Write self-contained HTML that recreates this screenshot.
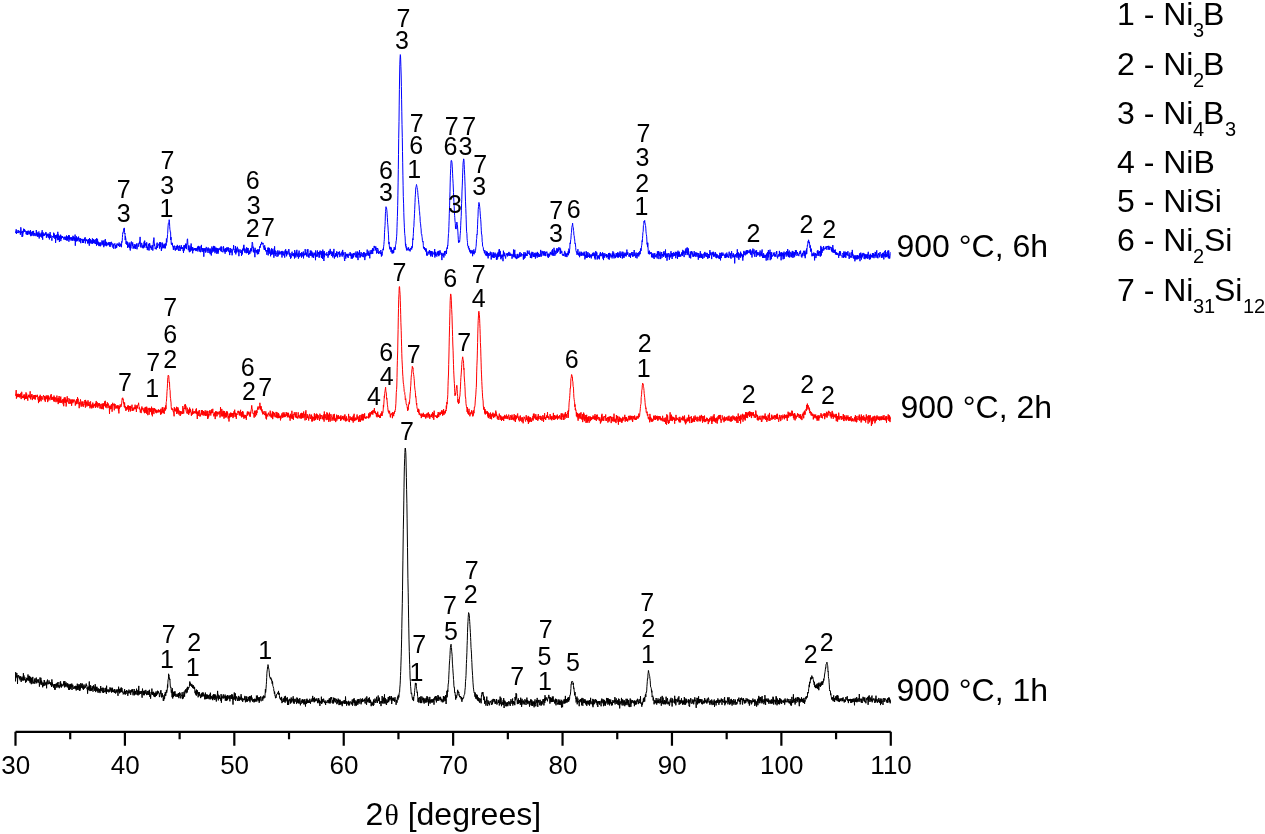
<!DOCTYPE html>
<html><head><meta charset="utf-8"><style>
html,body{margin:0;padding:0;background:#fff;}
svg{display:block;filter:blur(0.4px);}
text{font-family:"Liberation Sans",Arial,sans-serif;}
</style></head><body>
<svg width="1265" height="834" viewBox="0 0 1265 834">
<rect width="1265" height="834" fill="#fff"/>
<g fill="none" stroke-width="10" stroke-linejoin="round" transform="scale(0.1)">
<path stroke="#00f" d="M155 2316l2 13 2-5 3-31 2 47 2-11 2-23 2 24 3-1 2-3 2-6 2 8 2-27 2 10 3-3 2 23 2-9 2-8 2-5 3 9 2 4 2-5 2 31 2-4 3-71 2 16 2 37 2-8 2 15 3 3 2 34 2-61 2 12 2 43 2-29 3-1 2-20 2-27 2 32 2 0 3-28 2 13 2 13 2-18 2 15 3 2 2-1 2-4 2 28 2 4 2-12 3-19 2 31 2-22 2 29 2-37 3 36 2-22 2-21 2 19 2 7 3 6 2-22 2-4 2 26 2-14 3 15 2 9 2-48 2 38 2 24 2-30 3-13 2 34 2-8 2 11 2-22 3-22 2 29 2-12 2 25 2-8 3-37 2 10 2 42 2-6 2-25 3 12 2 7 2-1 2 8 2-11 2-10 3 1 2 26 2-62 2 40 2 9 3-30 2 34 2-19 2 33 2-19 3 13 2 5 2-14 2-28 2-9 3 70 2-39 2-12 2 15 2-4 2 23 3-17 2 2 2-17 2 20 2-30 3 33 2 17 2-59 2-15 2 60 3 35 2-70 2-4 2 38 2-24 3 4 2 2 2 12 2-16 2 17 2-11 3-11 2 9 2-17 2 20 2-24 3 2 2 54 2-34 2 3 2 12 3-18 2 8 2 15 2-1 2-28 2 43 3-26 2-10 2 3 2 10 2 39 3-54 2 28 2-47 2 40 2 18 3-20 2-7 2 19 2 11 2 2 3 23 2-31 2-15 2 7 2 1 2 0 3-4 2 1 2-39 2 51 2-28 3-14 2 39 2 12 2-14 2-6 3-17 2 79 2-35 2-42 2 9 3 17 2-31 2 34 2-12 2 33 2-8 3-76 2 54 2-29 2 56 2-16 3 8 2-34 2 58 2 4 2-60 3 27 2-23 2 13 2-29 2 64 3-54 2 13 2 18 2-22 2 10 2-6 3 7 2-16 2 12 2 1 2 1 3 4 2-5 2 22 2-20 2 7 3-12 2 5 2-11 2 35 2-28 3 6 2 22 2 2 2-17 2-30 2 49 3-4 2-35 2 40 2-31 2-8 3 19 2-6 2 8 2-37 2 67 3-48 2-14 2 40 2-20 2 19 2-16 3 6 2 4 2-16 2 35 2-28 3-5 2 21 2 5 2-9 2-14 3 31 2-50 2 10 2 25 2-26 3 27 2-2 2 17 2-35 2 6 2 22 3-56 2 111 2-77 2-1 2 34 3-16 2-34 2 49 2 2 2-27 3 3 2 16 2-31 2 30 2-6 3-18 2-15 2 26 2-11 2 35 2-19 3 15 2-14 2 1 2-18 2 29 3 22 2-40 2-2 2 9 2-4 3-7 2 16 2-10 2 35 2-30 3 6 2 14 2-23 2 34 2-39 2-2 3 11 2 4 2-23 2 26 2-35 3 62 2-29 2-7 2-2 2 9 3 5 2-17 2 1 2 18 2-10 3 31 2 3 2-25 2 11 2-31 2 41 3-8 2 9 2 24 2-77 2 46 3-24 2 32 2-42 2 16 2 11 3 12 2-8 2-19 2 8 2 26 2-17 3-37 2 52 2-8 2 4 2-24 3 21 2-38 2 32 2-23 2 29 3 5 2-34 2 15 2 2 2 23 3-10 2-40 2 35 2 5 2 27 2-75 3 27 2 34 2-51 2 1 2 43 3 13 2-32 2 27 2-7 2 24 3-26 2 22 2-32 2 11 2-1 3 28 2-12 2-27 2 28 2 2 2-19 3-6 2 4 2-29 2 35 2 1 3-24 2 36 2-41 2 14 2 2 3 45 2-70 2 42 2 7 2-8 3 14 2-43 2-23 2 62 2-34 2 17 3-18 2 44 2-7 2-29 2 29 3-16 2-3 2-1 2-6 2 19 3-5 2-16 2 25 2-32 2 22 3-1 2 22 2-40 2 46 2-32 2-3 3-11 2 29 2-14 2-20 2 7 3 11 2-5 2 34 2 9 2-7 3-14 2-15 2 9 2 14 2 27 2-21 3-21 2 2 2-12 2-3 2 13 3 8 2 31 2-35 2 24 2 6 3-33 2 29 2-17 2-24 2 14 3-4 2-7 2 5 2 8 2 9 2-20 3 16 2-31 2 35 2 8 2-6 3-4 2 7 2-28 2 5 2 11 3 6 2-16 2 29 2-58 2 11 3-11 2-38 2-29 2-20 2 5 2-5 3-24 2-9 2-8 2 19 2-26 3 48 2 12 2-7 2 69 2-39 3 18 2 10 2 50 2-27 2 32 3 3 2-4 2-28 2 16 2 47 2-56 3 9 2 13 2 22 2-11 2 16 3-33 2 41 2-11 2-44 2 65 3 15 2-59 2 16 2 21 2-58 3-10 2 14 2 13 2-5 2 25 2-9 3-29 2 35 2 28 2-13 2 1 3-15 2 21 2-40 2 36 2-15 3 24 2-15 2-25 2 23 2 21 2-42 3 13 2-6 2-20 2 52 2 6 3-14 2-16 2-8 2 2 2-23 3 32 2 3 2-6 2-34 2 1 3-13 2 20 2-36 2-32 2 50 2 46 3-5 2 16 2-7 2-40 2 1 3 6 2 21 2 12 2 8 2-21 3 27 2-26 2-8 2 32 2-31 3-33 2 34 2 22 2-67 2 52 2 1 3-22 2-4 2 17 2-6 2 35 3-18 2-38 2 18 2 31 2 27 3-29 2-2 2 34 2-36 2-5 3-21 2 10 2 55 2-74 2 27 2-25 3 29 2 13 2-18 2 19 2 5 3-9 2 25 2-15 2-19 2-6 3-6 2 21 2-17 2 51 2-32 3-53 2-17 2 22 2-50 2 40 2 43 3-22 2 20 2 10 2 24 2-10 3 4 2 1 2-11 2 19 2-37 3-17 2-13 2 0 2 19 2 33 2-15 3-17 2-4 2 8 2 2 2-2 3-17 2 19 2 33 2-65 2 37 3-37 2 50 2-19 2-23 2 47 3 34 2-40 2 22 2-22 2-45 2 50 3-17 2-21 2 41 2-9 2-12 3 25 2-35 2 29 2-31 2 27 3-35 2 48 2-26 2 19 2-45 3 2 2 20 2-70 2 18 2 21 2-26 3-12 2-40 2-14 2-42 2-32 3-27 2-1 2-5 2 0 2-28 3 31 2 35 2 30 2 9 2 20 3-1 2 79 2-29 2 64 2 10 2-10 3-8 2 21 2-17 2 29 2 0 3 13 2 9 2 17 2-39 2 29 3-34 2 2 2 7 2-4 2 40 3-2 2 8 2-23 2 8 2-18 2-12 3 34 2-5 2-30 2 35 2-46 3 28 2-9 2 5 2-12 2 40 3-6 2 15 2-23 2-30 2 18 2-18 3 34 2 18 2-18 2-20 2 3 3 12 2-34 2 33 2 6 2-14 3 0 2 13 2-19 2 4 2 32 3-7 2 29 2-56 2-20 2 51 2 1 3-35 2-17 2 32 2-36 2 26 3-38 2 40 2-39 2 29 2 24 3-46 2-5 2-40 2-11 2-1 3 61 2 3 2 50 2-46 2 20 2 10 3 25 2 11 2-44 2-11 2-12 3 61 2-26 2-14 2 9 2-50 3 19 2 51 2-10 2-3 2-22 3 33 2 30 2-58 2 25 2-10 2 17 3-6 2-4 2-15 2 15 2-14 3 6 2 1 2 15 2-25 2 5 3 26 2-29 2 0 2 25 2-10 3-3 2 2 2-29 2 33 2 15 2-14 3-42 2 35 2-24 2 16 2 6 3-26 2 50 2-26 2 19 2-2 3 15 2-5 2-55 2 32 2-45 2 36 3 24 2 5 2 5 2-38 2 13 3-6 2 26 2 9 2-39 2 83 3-76 2-7 2 24 2 3 2-4 3-27 2 44 2-30 2 29 2 0 2-54 3 7 2 1 2 29 2-2 2 2 3-21 2 26 2 18 2-54 2 23 3 7 2-13 2-2 2 39 2-6 3-8 2-32 2 59 2-36 2-13 2 12 3-5 2 55 2-41 2-5 2-44 3 60 2-40 2-6 2 30 2-29 3 31 2 4 2-56 2 32 2-27 3 29 2 20 2-48 2 67 2-36 2-17 3 20 2 21 2-43 2 31 2-25 3 55 2-21 2-21 2 33 2-47 3 16 2 39 2-46 2 29 2-24 3-14 2 9 2 7 2-11 2-5 2 1 3-8 2 32 2 2 2 3 2-48 3 51 2-15 2-32 2 35 2 13 3-4 2 7 2 4 2-3 2-18 2-39 3 24 2 23 2-20 2 23 2 4 3-14 2 34 2-55 2 36 2-27 3-6 2 29 2-25 2 28 2-43 3 29 2-20 2 13 2-6 2-16 2 37 3-35 2 4 2 40 2 1 2-7 3-7 2 44 2-66 2 5 2-9 3 42 2-13 2 16 2-2 2-21 3-12 2-3 2 65 2-24 2-12 2-20 3 0 2 0 2-4 2-42 2 43 3-4 2 16 2 2 2 16 2-15 3 17 2-66 2 28 2 56 2-60 3 18 2 21 2-34 2 35 2-46 2-10 3 18 2-5 2 31 2-8 2 14 3-24 2 68 2-50 2-3 2 5 3-10 2-10 2 18 2 14 2-4 3 6 2-29 2 3 2 57 2-47 2 18 3 3 2 11 2-57 2 18 2 0 3-3 2-45 2 44 2-53 2 63 3 5 2 1 2-34 2 46 2-32 2-4 3 3 2 2 2 21 2 14 2-59 3 31 2 25 2-17 2 6 2-40 3 49 2-48 2 36 2 25 2 7 3-28 2 14 2-28 2 3 2 30 2-25 3-4 2-25 2 31 2 7 2-38 3-2 2 27 2-40 2-25 2-25 3 6 2 13 2 42 2-14 2 54 3-38 2 16 2 26 2-19 2-8 2 15 3 59 2-94 2 28 2-2 2-2 3 24 2-27 2 1 2 9 2 16 3-20 2 39 2-47 2 41 2-44 3 11 2 8 2 28 2-22 2-26 2 23 3-33 2-19 2 16 2-14 2 6 3-31 2 10 2-4 2-8 2-7 3-13 2 22 2-11 2 12 2-11 3 9 2-11 2 23 2 17 2-4 2 19 3-2 2 18 2-22 2-25 2 43 3-8 2-11 2 35 2-3 2 4 3-11 2 11 2 5 2 30 2-47 2 11 3 5 2-39 2 3 2 73 2-78 3 47 2-27 2 2 2-19 2 22 3 35 2-41 2 42 2-8 2 34 3-48 2 33 2-13 2-24 2-29 2 63 3-54 2 21 2 29 2 1 2-37 3 21 2-3 2 30 2 24 2-91 3 55 2-78 2 58 2-19 2 59 3-35 2-16 2 7 2 0 2 16 2-3 3 19 2 19 2-13 2-41 2-9 3 21 2 37 2-27 2-10 2 17 3-37 2 3 2 35 2-17 2-7 3 14 2-16 2 0 2 4 2 22 2-8 3-24 2 19 2 22 2 22 2-66 3 31 2-14 2 22 2-11 2 18 3-20 2-21 2 2 2 20 2-1 3 41 2-14 2-58 2 29 2-32 2-9 3 51 2 0 2-31 2 51 2-53 3-2 2 36 2-14 2-5 2 2 3 7 2-11 2-1 2-32 2 11 2 47 3-21 2 24 2 15 2-34 2 14 3 41 2-30 2 22 2-7 2-20 3-14 2-17 2-4 2 35 2-1 3-10 2 20 2-30 2 31 2-24 2-3 3 4 2-1 2 47 2-84 2 37 3 19 2-6 2-18 2 42 2-58 3-2 2 38 2-40 2-15 2 68 3-2 2 1 2-26 2 14 2-26 2 59 3-21 2-4 2-55 2 55 2 10 3-4 2-10 2-16 2-9 2 24 3-5 2-2 2-13 2 40 2-56 3 22 2-11 2 30 2 3 2-1 2-7 3-41 2 69 2-32 2-12 2 0 3-5 2 19 2-2 2-19 2-42 3 51 2 7 2 0 2-12 2 10 3 11 2-33 2 42 2-71 2 14 2 12 3-31 2 29 2 47 2 0 2-21 3 32 2-31 2-14 2 12 2-6 3 15 2-48 2 50 2-31 2 26 2-45 3 23 2 13 2 17 2-42 2 57 3-23 2-20 2 32 2-24 2 21 3 19 2-32 2-21 2 4 2 23 3-5 2-19 2 7 2 28 2 38 2-98 3 62 2-21 2 19 2 1 2-18 3-24 2-7 2-11 2 61 2-25 3-2 2 2 2-20 2 33 2 23 3-6 2-54 2 56 2-40 2-27 2 14 3 6 2 20 2-25 2-11 2 25 3 45 2-57 2 23 2-8 2 52 3-94 2 64 2-45 2 16 2 10 3 69 2-76 2-22 2 60 2-40 2 7 3 6 2-1 2-6 2 9 2 0 3 9 2-23 2-6 2-5 2 31 3-11 2 8 2 2 2 25 2-31 3 10 2-43 2-4 2 15 2-15 2 42 3-42 2 27 2-47 2 28 2 18 3 6 2-29 2 34 2 14 2-6 3-26 2 3 2-11 2 37 2 17 2-41 3-23 2 41 2 7 2-69 2 55 3 41 2-26 2-1 2-2 2 15 3-39 2 4 2 27 2-24 2 19 3-44 2 47 2 1 2-19 2 2 2 30 3-57 2 7 2-2 2 13 2-13 3 24 2-15 2-14 2-4 2 57 3-30 2-5 2 6 2-2 2 15 3-3 2-25 2-5 2-4 2-1 2 49 3-45 2-22 2 27 2 3 2 19 3-23 2 31 2-1 2 22 2 14 3 19 2-35 2-54 2 20 2 10 3 35 2-32 2 9 2-24 2 13 2 7 3-21 2 22 2 7 2-27 2 26 3 14 2-30 2-1 2-8 2-5 3 19 2-12 2 6 2-11 2-17 3 13 2 27 2-31 2 12 2 45 2-6 3-38 2 28 2-22 2 38 2-47 3 14 2 22 2-45 2 41 2-42 3 22 2-12 2 1 2 5 2-5 2-13 3 36 2-2 2 10 2-5 2-52 3 56 2 1 2-36 2 28 2 14 3-45 2-18 2 25 2 61 2-49 3-25 2 19 2-15 2 6 2 14 2-50 3 58 2 18 2-30 2-6 2 30 3-48 2 3 2-3 2 25 2 13 3-7 2 5 2 7 2-10 2-24 3 10 2 30 2-50 2 12 2 0 2 12 3-19 2-3 2 77 2-33 2-35 3 17 2 15 2-23 2 17 2-26 3 3 2 4 2-9 2-35 2 46 3 8 2 5 2-29 2 26 2 1 2-39 3-7 2 53 2-28 2 33 2 18 3-56 2-4 2 9 2 8 2-38 3 39 2-9 2-10 2-23 2 23 3-2 2-37 2 56 2-41 2 3 2-16 3 12 2 12 2-34 2-16 2 18 3-15 2 6 2 12 2 1 2 22 3-38 2 26 2-11 2 32 2 23 2-32 3 27 2-35 2-15 2 11 2-3 3 10 2 14 2 27 2-8 2-1 3-14 2-3 2 17 2 3 2 4 3 4 2-10 2-31 2 14 2 6 2 45 3-39 2 17 2 12 2-22 2-16 3-8 2-21 2 12 2 0 2-32 3-22 2-30 2-18 2-71 2-30 3-40 2-43 2-76 2-22 2-26 2-23 3 11 2 2 2 12 2 15 2 32 3 37 2 51 2 20 2 23 2 38 3 40 2 55 2 38 2-21 2 39 3 23 2 11 2-10 2-12 2 18 2-20 3 38 2 14 2-45 2 33 2 8 3 16 2 3 2-7 2-27 2 6 3 25 2-36 2 7 2 24 2-26 3-31 2 14 2 14 2-19 2 18 2-4 3-42 2-8 2-5 2-29 2-3 3-39 2-29 2-63 2-61 2-49 3-112 2-102 2-123 2-133 2-153 2-157 3-170 2-165 2-154 2-137 2-112 3-76 2-26 2 11 2 42 2 64 3 97 2 106 2 126 2 126 2 126 3 132 2 139 2 113 2 124 2 101 2 112 3 73 2 86 2 66 2 39 2 49 3 59 2 17 2 16 2 49 2 39 3-19 2 35 2-10 2 30 2-15 3 27 2-9 2-7 2 6 2-10 2-9 3 1 2 15 2-18 2 29 2 4 3-2 2-15 2 7 2-4 2 20 3-31 2 7 2-1 2-2 2-11 3 0 2 19 2-33 2 14 2 2 2-28 3-64 2 13 2-32 2-31 2-57 3-13 2-59 2-25 2-49 2-36 3-71 2-53 2-25 2-38 2-35 3-8 2-11 2-11 2 10 2 8 2 13 3 17 2 10 2 24 2 27 2 18 3 24 2 24 2 26 2 13 2 43 3 16 2 35 2 13 2 47 2 18 2 8 3 39 2 11 2 46 2 6 2-1 3 27 2 11 2 29 2 0 2 14 3-7 2 39 2 31 2-10 2-3 3 12 2-13 2 26 2-15 2 20 2-4 3-8 2 26 2-33 2 27 2-15 3 58 2 2 2-19 2 22 2-21 3-1 2-14 2-7 2 17 2-11 3 3 2 23 2-17 2-27 2 25 2-10 3 8 2-16 2 40 2 15 2-54 3 36 2-2 2-31 2 23 2 26 3-9 2 14 2-52 2 6 2 16 3 5 2-4 2-8 2-1 2-3 2 23 3-59 2 85 2-38 2-18 2 37 3-37 2 37 2-15 2 16 2 2 3 7 2-36 2 7 2 5 2-27 3 36 2-11 2-29 2 48 2 3 2-54 3 32 2 12 2-10 2-34 2-5 3 28 2-7 2 12 2-1 2 15 3-21 2 10 2 62 2-57 2 14 2-6 3-6 2-17 2 24 2-10 2 13 3 19 2-36 2 9 2-36 2 18 3 25 2-32 2-12 2 13 2-11 3-5 2-3 2 35 2-54 2 0 2-12 3 16 2-37 2 6 2-39 2-32 3-53 2-13 2-58 2-61 2-70 3-74 2-83 2-64 2-83 2-76 3-66 2-48 2-32 2-3 2 0 2 6 3 18 2 33 2 30 2 47 2 46 3 48 2 48 2 45 2 55 2 37 3 51 2 50 2 35 2 24 2 34 3 22 2 53 2-24 2 16 2 13 2-23 3-14 2-34 2 5 2 31 2-4 3 38 2 29 2 39 2 34 2 34 3-18 2-3 2 18 2-4 2 1 3-27 2-42 2-14 2-30 2-49 2-50 3-42 2-64 2-69 2-40 2-82 3-60 2-63 2-59 2-52 2-48 3-21 2-19 2 0 2 21 2 34 2 49 3 60 2 58 2 57 2 82 2 68 3 69 2 58 2 54 2 71 2 48 3 16 2 54 2 18 2 18 2 35 3 3 2 5 2 14 2-22 2 29 2 7 3-12 2 31 2 2 2-11 2 8 3 18 2 2 2-34 2 19 2 15 3-16 2-9 2-1 2 10 2-13 3 58 2-45 2 20 2-10 2 8 2-23 3-18 2 49 2-32 2 2 2 0 3 15 2-8 2-3 2-15 2-23 3-15 2-33 2-39 2-6 2-44 3 5 2-53 2-46 2-60 2-20 2-71 3-32 2-23 2-18 2 3 2 7 3 27 2 16 2 30 2 24 2 31 3 31 2 27 2 43 2 39 2 42 3-1 2 29 2 46 2 3 2 40 2 5 3 8 2 1 2 31 2-1 2 6 3 5 2 16 2 0 2-31 2 30 3 9 2 13 2-8 2-7 2-27 2 12 3 33 2-32 2 32 2 6 2-44 3 33 2-7 2 40 2-23 2-28 3 19 2-22 2 18 2 9 2-2 3 2 2-18 2-22 2 31 2-9 2 2 3 54 2-20 2-26 2-25 2-1 3 34 2 16 2-26 2 10 2 4 3 17 2-54 2 37 2 7 2 11 3-11 2-30 2 9 2-20 2 36 2 1 3 7 2-27 2-2 2 53 2-27 3 31 2-24 2-42 2 42 2 10 3-33 2-33 2 50 2-21 2 6 3-60 2 64 2-64 2 37 2 35 2-53 3-2 2 36 2 44 2 2 2-45 3 32 2-8 2-3 2-2 2-21 3 29 2 5 2 32 2-35 2-70 3 26 2 28 2 0 2-35 2 35 2-7 3 3 2-1 2 20 2 9 2-16 3-35 2 4 2 0 2 14 2-9 3 0 2-12 2 33 2-3 2-1 2-19 3 11 2-31 2-2 2 15 2 24 3-11 2-21 2 25 2 8 2-8 3-14 2 19 2-15 2 1 2 3 3 16 2 26 2-8 2-15 2-21 2 1 3 1 2 27 2-77 2 58 2-49 3 39 2 25 2-44 2-26 2 74 3 9 2-18 2 17 2-37 2 39 3 9 2-18 2-7 2 19 2-7 2-39 3 43 2-14 2-10 2 20 2-5 3-3 2-27 2 30 2-39 2 19 3-30 2-3 2 44 2-16 2 1 3 17 2-7 2-26 2 20 2-5 2-5 3 8 2 1 2-5 2-1 2 11 3 39 2-58 2 25 2-42 2 67 3-40 2 9 2 22 2-2 2-52 3 37 2-16 2 14 2-16 2 8 2-9 3-8 2 25 2-54 2 23 2-11 3 20 2-5 2 4 2-5 2 0 3-26 2 33 2 9 2-17 2-3 2 4 3 48 2-31 2 4 2-9 2-5 3-6 2 49 2-64 2 38 2-9 3-4 2-23 2 3 2 47 2-33 3 31 2-3 2-3 2 7 2-36 2 13 3 23 2-42 2 59 2-44 2 12 3-18 2 26 2-24 2 9 2-20 3 50 2-58 2 38 2-4 2 5 3-29 2 40 2-1 2-13 2 4 2-7 3 18 2-30 2 26 2-5 2-39 3-23 2 46 2-4 2 25 2-24 3-14 2-19 2 25 2-6 2-13 3 22 2 20 2-17 2-22 2 30 2-28 3-10 2 38 2-18 2 28 2-12 3-24 2 18 2 21 2-28 2-17 3 11 2-3 2-4 2-2 2 32 3 16 2-29 2 21 2 5 2 17 2-41 3-2 2 13 2-4 2-1 2 20 3-30 2 12 2-28 2 19 2-11 3-2 2 8 2-4 2 12 2 6 2-43 3 52 2-63 2 46 2 11 2-24 3 11 2-8 2 30 2-81 2 41 3-19 2 42 2 15 2-6 2-13 3-11 2-19 2 33 2-15 2-27 2-15 3 10 2 32 2 0 2 3 2-45 3 4 2 28 2-22 2 12 2-33 3 14 2 10 2-1 2 0 2-19 3 61 2-26 2-25 2 46 2-17 2 13 3-12 2-9 2 4 2 21 2 13 3-6 2 5 2 14 2-17 2 11 3 5 2-15 2-5 2-9 2-14 3-6 2 55 2-26 2-12 2 39 2-9 3-16 2 23 2-27 2 7 2 28 3-15 2-26 2 17 2 4 2-32 3-8 2 41 2-42 2-24 2 19 3 27 2-37 2-8 2-59 2 5 2 6 3-44 2-2 2-35 2-24 2-10 3-46 2-16 2-6 2-6 2-19 3 35 2 1 2 10 2 27 2 9 2 39 3 5 2 30 2-1 2 27 2 26 3-6 2 17 2 23 2 30 2 6 3 13 2-5 2 16 2 15 2-21 3 8 2 7 2-50 2 39 2 10 2 10 3-21 2 27 2-28 2 13 2 30 3-56 2 27 2-4 2 4 2-6 3 23 2-34 2-8 2 38 2-34 3 29 2-2 2-16 2 6 2 7 2 13 3-20 2 11 2-24 2 22 2-31 3 40 2-11 2 48 2-15 2-28 3 23 2-9 2-27 2-26 2 66 3-12 2-44 2 51 2 5 2-33 2 26 3-48 2 26 2 6 2 15 2-11 3-6 2 6 2-24 2 45 2-37 3 26 2-15 2-6 2 18 2-2 3 20 2-7 2-32 2 18 2-6 2-19 3-6 2 28 2-15 2-19 2 28 3 4 2-1 2-31 2 16 2 40 3-43 2 5 2 51 2-42 2-16 2-26 3 49 2-37 2 28 2-13 2-12 3 69 2-31 2 20 2-4 2-27 3 15 2-9 2 25 2-11 2-17 3 37 2-21 2-4 2-32 2 24 2-39 3 37 2-28 2 24 2-10 2 8 3 10 2-5 2-1 2-26 2-7 3 63 2-15 2-38 2 68 2-54 3 23 2 3 2-7 2 9 2-43 2 30 3-8 2 5 2-8 2-6 2-3 3 33 2-34 2 26 2-6 2-4 3 13 2 2 2-27 2 19 2 26 3-60 2 17 2-4 2 54 2-68 2 25 3 22 2-38 2 19 2-9 2-11 3 24 2 9 2-17 2 13 2 8 3 10 2-50 2 35 2-28 2-28 3 21 2 28 2-7 2-29 2 58 2-25 3-5 2-10 2 23 2-14 2 28 3-16 2 8 2-22 2-21 2 36 3-32 2 18 2-1 2-16 2 35 2-47 3 56 2-42 2 32 2 3 2-44 3 5 2 35 2-17 2-1 2-36 3 1 2 44 2 20 2-38 2-9 3 18 2 8 2 2 2-15 2-28 2 68 3-36 2 32 2-63 2 49 2-18 3-12 2 36 2 6 2-39 2 21 3-34 2 12 2 6 2-4 2 19 3-32 2 37 2-4 2-23 2-20 2-22 3 45 2-11 2 17 2-25 2 24 3 2 2 2 2 5 2-2 2 15 3-33 2 28 2-13 2-9 2-10 3 49 2-26 2-14 2 13 2-4 2-11 3-18 2 31 2-6 2-4 2 26 3-47 2 7 2 23 2 13 2-5 3 1 2-59 2 56 2 0 2 5 3-27 2 20 2 12 2 11 2-25 2-27 3 22 2 14 2-3 2 26 2-36 3-16 2 7 2 23 2-31 2-6 3 0 2 39 2-22 2-13 2 17 2-4 3-32 2 32 2-15 2-42 2 6 3 19 2-5 2-26 2-25 2-1 3-47 2 12 2-35 2-25 2-34 3-10 2-57 2-9 2-6 2-30 2 11 3-12 2-7 2 26 2 1 2 21 3 6 2 23 2 37 2 16 2 11 3 23 2 42 2 34 2-16 2 43 3-43 2 35 2 47 2 27 2-21 2 15 3-4 2 17 2-37 2 31 2-16 3 5 2 10 2-1 2-11 2 11 3-13 2 47 2-11 2-19 2 37 3-7 2-15 2-21 2 19 2 7 2 16 3-30 2-11 2 55 2-18 2-20 3-21 2 26 2 14 2-6 2 2 3-17 2 23 2-33 2 2 2-2 3-1 2 46 2-72 2 36 2-23 2-5 3 25 2-34 2 30 2 49 2-43 3 9 2-21 2 24 2-43 2 34 3-3 2 43 2-49 2-8 2 0 2-13 3 42 2 15 2-37 2 19 2-19 3 15 2 2 2-37 2 15 2 34 3-59 2 37 2-6 2-13 2 23 3 5 2 4 2-66 2 84 2-40 2 31 3-26 2-8 2 6 2 65 2-35 3-36 2 14 2 21 2-12 2-8 3-5 2-16 2 37 2 10 2 21 3-54 2 20 2-11 2 21 2-28 2-12 3-22 2 47 2-13 2 18 2-34 3 60 2-59 2 23 2-3 2 16 3-25 2-16 2-3 2 38 2-12 3 6 2-22 2 20 2-1 2 7 2-41 3 14 2 50 2-39 2 4 2-8 3-20 2 9 2 28 2-22 2 55 3-69 2-13 2 29 2-16 2 48 3-34 2 18 2-35 2 44 2-2 2 11 3-17 2 5 2-8 2 15 2-25 3 13 2-26 2 24 2-21 2-10 3-3 2 41 2-59 2 1 2 42 2-32 3 9 2-1 2 53 2-55 2 0 3 0 2 10 2 6 2-37 2 32 3 24 2-69 2 43 2 4 2-7 3-8 2-40 2 69 2-26 2 7 2 27 3-67 2 44 2 15 2 9 2-2 3 27 2-31 2 16 2-5 2-41 3 15 2 53 2-49 2 6 2-29 3 19 2-19 2 16 2 20 2-23 2 6 3 36 2-15 2 6 2 9 2-28 3 4 2-32 2 51 2-18 2 10 3-24 2 35 2 2 2-12 2-34 3 15 2 17 2-20 2 21 2 14 2-40 3 9 2-6 2 33 2-2 2 35 3-46 2-20 2 27 2-9 2 11 3 19 2-31 2 20 2-56 2 62 3-16 2-9 2-5 2 35 2-42 2 37 3-33 2 11 2 3 2 34 2-34 3-2 2-4 2-3 2-11 2 44 3-9 2-43 2 21 2-29 2 41 2-1 3-11 2-16 2 37 2 0 2-14 3 15 2-42 2 16 2-11 2 24 3 31 2-32 2 21 2-25 2-12 3 30 2-10 2 20 2-10 2-34 2-35 3 52 2-28 2 1 2 1 2 17 3 4 2 6 2 37 2-66 2 21 3-21 2 4 2 18 2 6 2-36 3 47 2-38 2 39 2-19 2 18 2-6 3-20 2 15 2-33 2 3 2 17 3 37 2-38 2-1 2 44 2-24 3 3 2-18 2 20 2 12 2-18 3 15 2-5 2 16 2-9 2-21 2 17 3 20 2-30 2-32 2 26 2-4 3 54 2-39 2-35 2 21 2 29 3-54 2 20 2 10 2-7 2-6 3 15 2-32 2 14 2 1 2 9 2-2 3 8 2-7 2-1 2 18 2 12 3 1 2-43 2 30 2 14 2-22 3 16 2-20 2 7 2-35 2 43 2-16 3-9 2 2 2 26 2 1 2-10 3 15 2-27 2-20 2-14 2 36 3-2 2 5 2-4 2 25 2-44 3 0 2 54 2-25 2-18 2-32 2 23 3 15 2 3 2 4 2-7 2 26 3-44 2 18 2-9 2 29 2-14 3 15 2-14 2 77 2-58 2-32 3 11 2-10 2 23 2 3 2-13 2-13 3-15 2 46 2-9 2-74 2 62 3-21 2 12 2 36 2-58 2 5 3 69 2-58 2 4 2 22 2-30 3 11 2 4 2 26 2-60 2 16 2 11 3 19 2-28 2 23 2-15 2 3 3 31 2-30 2 59 2-47 2 12 3-9 2-48 2-5 2 41 2-32 3 8 2 4 2-13 2 37 2-8 2-15 3 7 2-32 2 31 2-32 2 39 3-42 2 4 2 30 2-5 2-31 3 25 2-10 2-1 2 12 2-1 2 5 3-12 2-8 2-7 2 30 2-40 3 51 2 1 2-1 2-38 2 43 3-16 2 0 2 42 2-54 2 7 3-30 2-12 2 41 2 7 2 7 2-4 3-43 2 47 2 15 2 10 2-48 3 5 2 0 2 4 2-21 2 21 3 43 2-51 2-16 2 31 2-6 3 26 2-29 2 15 2-14 2-4 2 27 3-4 2-4 2 12 2-29 2 17 3 3 2 22 2-61 2 32 2 15 3-19 2 16 2 12 2-2 2-42 3 7 2-29 2 68 2-7 2 23 2-22 3-21 2 43 2-46 2 27 2-5 3 21 2 3 2-25 2-7 2 15 3-12 2 26 2-10 2 16 2 24 3-70 2 9 2 18 2-4 2-14 2-25 3 82 2-50 2-26 2-25 2 73 3-20 2-9 2-22 2 16 2-5 3-37 2 105 2-47 2-20 2-13 2 10 3 60 2-38 2-31 2 46 2-10 3 3 2-9 2 1 2 4 2-6 3-22 2 5 2 19 2-31 2 30 3-6 2 20 2-11 2-10 2-3 2 18 3 6 2-40 2-8 2 17 2-26 3 33 2 31 2 1 2 9 2-26 3 1 2-15 2 0 2 14 2 10 3-10 2-49 2 48 2-10 2-14 2 11 3 17 2-19 2-17 2 78 2-80 3 27 2 14 2-39 2 32 2-27 3 13 2-7 2 57 2-63 2 39 3-8 2-45 2 72 2-48 2 5 2 5 3-23 2 3 2 11 2-17 2 20 3 22 2-45 2-9 2 29 2 7 3 5 2-36 2-27 2 64 2-2 3 19 2-53 2 36 2 11 2-60 2 61 3 9 2-15 2 1 2 4 2-17 3-29 2 10 2 17 2-13 2 39 3-28 2 6 2-41 2 44 2-20 2 46 3-64 2 39 2-17 2-4 2 40 3-13 2-38 2 42 2-41 2 29 3-51 2 31 2 3 2-3 2-22 3-6 2 41 2 13 2-11 2-4 2-22 3 27 2-4 2-5 2 19 2 0 3 3 2-15 2-18 2 12 2-1 3-27 2 26 2-25 2-7 2 25 3 5 2 29 2-18 2 10 2 18 2-26 3 4 2-24 2 27 2-16 2-2 3-30 2 7 2 6 2 20 2 21 3-54 2 25 2-3 2 52 2-49 3-7 2 19 2-40 2 25 2-44 2 54 3-45 2-20 2-25 2 4 2-14 3-27 2 13 2-28 2 6 2 5 3 24 2-13 2 18 2 20 2 21 3-25 2 60 2-12 2-2 2 16 2-30 3 27 2 25 2 25 2-28 2 15 3-11 2 21 2-22 2 19 2-14 3-18 2 1 2 8 2 33 2 37 2-63 3-10 2 22 2-2 2-17 2 47 3-19 2-3 2-17 2-2 2 16 3-47 2 12 2 16 2-35 2 55 3-39 2 1 2 17 2 23 2-30 2-16 3-3 2 21 2-18 2 53 2-19 3-88 2 38 2 25 2 33 2-81 3 27 2 27 2-36 2 12 2-11 3 14 2-35 2 16 2-27 2 42 2-5 3-13 2-1 2 2 2-8 2 10 3 1 2-11 2-10 2-1 2-5 3 16 2-8 2 28 2-35 2 5 3-7 2 9 2-7 2-4 2 14 2 23 3-37 2 5 2 11 2 1 2 22 3-28 2 6 2-8 2 3 2 9 3-9 2 28 2 13 2-31 2 1 3 39 2-25 2 27 2-72 2 47 2-12 3 11 2 26 2 6 2-20 2 19 3-28 2 23 2-3 2-25 2 49 3-23 2 20 2-21 2 20 2 8 2-11 3-9 2 21 2-2 2-13 2 13 3-1 2-2 2 19 2 15 2-47 3 6 2-19 2-7 2 47 2-34 3 19 2-29 2 17 2 23 2 0 2-2 3 3 2 1 2 9 2 11 2-21 3-11 2-14 2 9 2 2 2 37 3-63 2 22 2-3 2 38 2-33 3-22 2-2 2 48 2-37 2 53 2-2 3-49 2 15 2 8 2-31 2 7 3 12 2 9 2 6 2-42 2 45 3-8 2-1 2-1 2 32 2 10 3-39 2 5 2-29 2 27 2 23 2-16 3 7 2-9 2 5 2 12 2 0 3-55 2 34 2-55 2 56 2-12 3-4 2 42 2-25 2 19 2-6 3 21 2-35 2 4 2 0 2 54 2-56 3 10 2 25 2-11 2-29 2 43 3-29 2 22 2-16 2 6 2-28 3 43 2-43 2 14 2 25 2-28 2 11 3-4 2 0 2 7 2-38 2 22 3 53 2-82 2 25 2 25 2-54 3 23 2 2 2 44 2-50 2 32 3-25 2 14 2-24 2-8 2 20 2-25 3 27 2 6 2 5 2 23 2-2 3-51 2 4 2 51 2-32 2-9 3 27 2-37 2 29 2-23 2 34 3-28 2 16 2 6 2 13 2-47 2 7 3-21 2-9 2 27 2 17 2 22 3-34 2 46 2-37 2 18 2-21 3-18 2 54 2-41 2 27 2-28 3 18 2-13 2-4 2 1 2 18 2-40 3 7 2 41 2-33 2 17 2-29 3 21 2 28 2-23 2 3 2-16 3 12 2-39 2 3 2 40 2-42 3 58 2-7 2-43 2-19 2-6 2 55 3-11 2 29 2-17 2 24 2-15 3-34 2 16 2-18 2 8 2-1 3 4 2 30 2-42 2-11 2 15 2 5 3 3 2 13 2-8 2 30 2-5 3-35 2 36 2 3 2-31 2-17 3 21 2-8 2 12 2-28 2 68 3-47 2 18 2-22 2 11 2-44 2 19 3-26 2 70 2-50 2-3 2 51 3-32 2 10 2 19 2-10 2-6 3 7 2-52 2 63 2 5 2 8 3-79 2 27 2 6 2 46 2-22 2 24 3-25 2-25 2-11"/>
<path stroke="#f00" d="M155 3958l2-17 2 1 3-41 2 85 2-16 2-30 2 23 3-7 2-17 2 33 2-27 2 3 2-10 3 32 2-12 2 13 2-25 2 14 3-19 2 34 2-14 2 5 2-4 3-30 2 34 2 25 2-70 2-3 3 6 2 47 2-11 2 21 2-3 2-12 3 0 2-7 2 22 2-35 2 15 3 8 2 32 2-54 2-3 2 13 3 31 2-27 2 28 2-65 2 60 2-2 3-45 2 30 2 22 2-24 2 16 3 26 2-41 2-9 2-9 2 24 3-17 2-2 2 2 2 20 2-31 3-10 2-21 2 72 2-20 2 29 2-30 3-17 2 24 2-10 2-21 2 7 3 54 2-25 2-1 2-13 2-5 3 29 2-22 2-11 2 16 2-18 3 20 2 20 2-41 2 46 2-41 2 17 3-23 2 12 2 10 2-9 2 0 3 4 2-5 2-13 2 28 2 16 3 5 2-5 2 39 2-46 2-17 3 51 2-57 2 44 2-38 2 30 2-50 3 54 2-21 2-15 2 47 2-18 3-19 2-15 2 14 2 2 2 17 3 1 2-27 2 1 2-2 2-16 3 12 2 11 2 17 2 12 2-42 2 25 3-17 2 49 2-43 2 11 2-28 3 3 2 23 2-11 2 14 2-35 3 46 2-32 2 55 2-42 2 27 2-51 3 35 2-26 2 8 2 12 2-5 3 14 2 10 2-6 2-17 2-26 3 11 2 12 2-36 2 56 2-23 3 0 2 25 2-4 2-6 2-20 2 26 3-2 2-21 2 41 2-10 2-47 3 44 2-30 2 47 2-6 2-39 3 4 2 17 2-4 2 33 2-17 3-18 2 18 2-49 2 51 2 9 2-19 3-14 2 26 2 32 2-36 2-26 3 50 2-69 2 52 2-23 2 34 3-35 2 41 2-18 2-41 2-4 3 33 2 29 2-19 2-2 2-4 2 22 3-9 2 0 2-25 2 46 2 6 3-55 2 74 2-35 2-24 2-29 3 51 2-3 2-25 2-23 2 56 3-38 2 5 2 68 2-14 2-24 2-29 3 23 2-58 2 49 2-16 2-8 3-7 2 44 2-5 2 4 2 14 3-36 2-4 2-11 2 30 2 22 2-19 3 12 2-36 2 15 2-4 2-12 3 63 2-19 2-34 2 1 2 15 3-26 2 37 2-35 2 18 2-11 3 10 2-15 2-4 2 17 2 4 2 6 3 6 2 28 2-17 2-24 2 19 3-31 2 39 2-19 2-33 2 45 3 2 2-66 2 40 2 5 2-29 3 20 2 5 2 29 2-9 2 50 2-60 3 32 2-20 2 9 2-30 2-19 3 23 2 34 2 16 2-25 2 0 3-27 2 44 2-6 2-34 2 12 3-16 2 54 2-18 2-12 2 10 2 2 3-19 2-16 2-4 2-12 2 42 3 34 2-77 2 38 2 10 2-27 3 21 2-25 2 49 2-39 2 18 3 10 2-23 2-28 2 26 2 30 2-18 3 6 2-28 2 24 2 16 2-14 3 38 2-41 2-16 2-12 2 57 3-21 2 19 2-9 2 24 2-12 2-32 3 13 2 19 2-46 2 55 2-2 3-6 2-23 2 13 2-25 2 22 3-13 2 13 2-16 2 17 2 17 3-49 2 43 2-61 2 0 2 39 2 4 3 12 2-43 2 29 2 1 2 24 3-24 2 8 2-27 2 14 2-9 3 23 2-31 2 2 2 31 2 22 3-28 2-5 2-10 2 34 2-10 2 24 3-25 2-28 2 10 2-8 2-1 3 49 2-13 2-43 2 62 2-33 3-25 2 25 2-3 2-17 2-26 3 44 2 4 2-55 2 64 2 3 2-21 3 11 2-12 2-12 2 4 2 37 3-59 2 35 2 1 2-16 2 5 3-12 2 12 2 24 2 8 2-23 3 82 2-76 2 12 2-9 2-7 2 33 3-36 2 34 2-4 2-44 2 42 3-34 2 67 2-60 2-7 2-22 3 12 2 15 2-9 2-4 2 13 2 14 3 34 2-66 2 27 2-8 2-15 3 6 2 7 2 32 2-21 2-8 3 25 2-12 2-7 2 17 2-27 3 32 2-2 2-15 2-14 2 51 2-30 3 59 2-76 2 32 2-30 2 12 3 4 2-32 2 17 2 5 2-5 3 4 2 0 2-13 2-23 2-20 3-28 2-1 2-2 2 19 2-5 2-4 3 46 2-13 2 12 2 23 2 15 3-46 2 30 2 27 2-9 2-10 3 10 2 36 2-37 2 25 2 0 3-26 2 17 2-18 2-4 2-10 2 40 3-27 2 0 2-14 2 62 2-21 3-12 2-9 2-15 2 38 2 0 3-39 2 55 2-8 2-37 2 6 3-2 2 9 2-7 2-28 2 63 2-25 3 17 2 3 2-29 2 12 2 15 3 1 2-19 2-9 2 14 2-15 3 6 2-34 2 45 2-25 2 10 2 8 3 6 2 29 2-34 2-33 2 33 3-18 2 11 2-28 2-3 2 3 3-2 2-21 2 23 2 13 2 27 3-17 2 6 2 22 2 2 2 20 2-19 3-10 2 29 2 7 2-44 2 15 3-37 2 24 2-10 2 14 2-5 3 11 2 0 2 15 2-5 2-15 3-15 2 49 2 4 2-37 2 17 2-39 3-4 2 25 2 35 2-48 2 7 3 48 2-69 2 49 2-9 2-9 3 9 2 45 2-73 2 18 2 2 3-5 2-8 2 61 2-29 2-39 2 21 3 19 2 1 2-36 2 25 2 6 3 0 2-2 2-46 2 78 2-30 3 30 2 18 2-59 2-25 2 48 3-19 2-9 2-14 2 56 2-42 2-17 3 17 2-12 2 24 2-13 2-5 3 31 2-25 2 25 2 8 2-30 3-4 2 15 2 13 2-21 2 8 2-3 3 5 2 9 2-30 2 5 2 12 3-11 2 17 2 5 2-14 2-9 3-2 2 49 2-17 2-41 2 3 3 51 2-6 2-25 2 20 2-56 2 34 3 11 2-48 2 23 2 32 2 3 3-34 2 14 2 28 2-43 2-18 3 18 2-13 2 24 2-25 2-27 3 38 2-67 2-9 2-27 2-31 2-43 3-31 2-46 2-47 2-16 2-18 3-7 2 6 2 5 2 38 2 28 3-7 2 56 2 22 2 5 2 67 3 14 2 26 2 11 2 44 2 19 2-4 3 17 2-7 2 8 2-12 2 17 3-9 2 21 2 7 2-9 2 17 3 33 2-91 2 38 2-14 2 4 3-15 2 29 2-4 2-7 2 6 2-7 3-34 2 72 2-25 2-16 2 24 3-23 2-28 2 63 2-50 2 33 3 4 2 23 2 1 2-24 2-15 2 6 3 31 2 16 2-27 2-22 2 36 3-32 2 0 2 1 2 19 2-12 3 12 2 5 2-19 2-60 2 11 3 31 2-3 2 36 2-46 2-10 2 9 3-10 2-30 2 11 2-20 2 8 3 46 2-37 2 53 2 6 2 9 3 8 2-3 2-53 2 21 2 7 3 33 2-38 2 4 2 8 2 36 2-56 3 3 2 37 2-56 2 47 2-17 3-17 2 29 2-16 2 23 2 5 3 28 2-27 2 5 2-18 2 12 3 15 2-58 2 52 2-25 2 9 2 6 3 7 2-8 2-15 2 15 2-6 3-8 2 6 2 14 2-14 2 1 3-28 2 24 2-33 2 54 2-29 3 49 2 32 2-68 2 35 2-21 2-19 3-4 2 30 2 16 2-23 2-36 3 12 2 17 2 36 2-18 2 1 3 14 2-28 2 2 2-3 2-32 2 42 3-3 2 8 2-47 2 11 2 33 3-9 2 20 2-46 2 23 2-17 3 20 2-15 2 17 2 16 2-8 3-43 2 56 2-9 2-30 2 3 2 22 3 11 2-23 2-26 2 35 2 2 3 44 2-78 2 75 2-16 2-29 3 27 2-29 2 16 2-41 2 18 3-21 2-10 2 28 2-11 2 28 2 10 3-28 2 2 2 1 2-36 2 38 3-10 2 5 2-22 2-17 2 31 3 15 2 19 2 1 2 10 2-19 3 10 2-30 2 21 2 8 2 37 2-47 3-32 2 51 2-45 2 16 2-4 3-15 2 48 2-19 2-22 2 14 3-9 2 18 2-19 2-7 2 4 3 2 2 17 2-28 2 13 2 8 2 40 3-28 2-77 2 47 2 5 2 15 3 26 2-10 2-64 2 55 2-3 3 6 2 18 2-51 2 46 2-52 2 31 3 11 2 37 2-58 2-18 2 50 3-25 2 42 2-46 2-4 2 40 3-20 2 15 2-50 2 60 2-46 3 30 2-34 2-7 2 30 2 7 2 32 3-25 2 8 2 0 2 47 2-80 3 41 2-31 2 10 2-17 2 34 3-45 2 0 2 22 2-20 2 34 3 5 2-35 2 28 2-30 2 13 2-2 3 39 2-38 2-15 2 1 2 38 3-56 2 29 2 0 2-43 2 41 3 30 2-17 2-23 2 34 2-2 3 29 2-54 2 7 2 7 2-3 2 2 3-5 2-11 2-23 2 20 2-20 3 6 2 10 2 20 2 8 2-36 3 25 2 13 2-16 2-31 2-10 3 61 2 4 2-11 2-30 2 52 2-4 3-23 2-3 2-33 2 56 2-50 3 47 2 6 2-13 2 30 2-40 3 22 2 6 2-14 2-11 2 31 2-19 3-12 2 1 2 7 2 40 2-43 3-7 2-16 2-4 2-13 2 41 3-6 2-23 2-9 2 22 2-4 3-18 2 32 2-1 2-1 2 16 2-32 3 35 2-49 2 18 2-9 2-29 3-6 2-36 2-3 2 28 2 6 3 29 2 3 2 18 2-1 2 3 3 0 2-7 2 39 2 6 2-70 2 29 3 21 2-9 2 18 2-20 2-36 3 15 2-24 2 43 2 8 2-35 3 11 2-23 2-24 2 10 2-25 3 13 2 7 2 3 2 7 2-31 2 10 3 3 2 2 2-52 2 32 2 30 3-27 2 25 2 14 2-39 2 35 3 15 2 1 2-20 2 35 2-13 3 28 2-1 2-17 2 14 2-14 2 2 3-18 2 24 2 17 2-9 2 1 3-13 2 3 2 23 2-42 2 72 3-41 2 49 2-25 2-34 2 25 2-7 3 6 2 6 2-23 2 1 2 0 3-17 2 19 2 7 2-1 2 1 3-8 2 19 2-56 2 38 2 0 3 27 2-2 2 2 2-18 2 21 2-39 3 25 2-47 2 76 2 2 2-45 3-3 2-25 2 9 2 37 2-11 3-25 2 23 2-6 2 23 2 4 3-16 2 6 2-5 2-39 2 49 2-8 3 17 2-55 2 53 2-28 2 17 3 19 2-53 2 0 2 50 2-44 3 7 2 33 2-17 2 17 2-8 3-7 2 22 2 21 2-47 2 30 2-7 3-23 2 6 2-28 2 6 2 17 3-8 2 28 2-53 2 19 2-6 3 9 2 25 2-49 2 44 2-29 3 7 2 26 2-28 2 23 2-8 2-5 3-3 2-29 2 21 2 15 2 2 3-31 2 45 2-5 2-39 2 9 3 34 2-44 2 24 2 12 2 3 2 6 3 6 2-23 2 0 2 51 2-69 3 19 2 12 2-19 2 34 2-23 3 12 2-65 2 77 2 3 2-42 3 41 2-21 2 12 2 20 2-39 2-20 3 13 2-29 2 12 2-1 2 3 3 36 2-4 2-32 2 36 2-53 3 20 2 14 2 27 2-11 2-4 3 12 2-9 2 17 2-44 2-19 2 24 3 24 2-9 2 14 2-3 2-2 3 5 2-27 2 37 2-43 2 17 3-26 2 40 2-43 2 54 2-57 3 29 2-7 2-16 2 44 2-34 2 38 3-50 2 5 2-22 2 54 2 6 3-12 2-7 2-18 2 66 2-31 3-52 2 31 2-49 2 86 2 10 3-11 2-26 2-10 2-11 2 40 2-24 3 6 2-6 2 8 2 27 2 14 3-36 2-7 2-22 2-2 2 7 3 41 2-14 2 14 2-12 2-13 2-14 3 19 2-20 2 68 2-35 2-14 3 47 2-46 2 22 2-15 2 10 3-13 2 16 2 20 2-55 2-19 3 70 2-27 2 10 2-24 2 34 2 4 3-58 2 41 2-30 2-17 2 27 3 21 2-38 2-1 2 55 2-26 3 7 2-27 2 10 2 15 2-1 3 0 2 30 2-32 2-39 2 14 2 13 3 27 2-39 2 6 2 7 2-12 3-3 2 15 2 26 2-7 2-14 3 15 2-30 2 44 2-5 2-8 3-43 2 73 2-101 2 37 2 3 2 29 3-41 2 37 2-9 2 1 2 21 3 8 2-23 2-17 2-38 2 71 3-38 2-26 2 42 2 27 2-31 3-22 2 72 2-32 2-2 2 12 2-69 3 40 2 0 2 49 2-51 2-3 3-21 2 8 2 14 2 7 2-5 3 43 2-31 2-1 2 17 2-11 2-16 3-22 2 42 2-26 2 45 2-40 3-26 2 46 2 21 2-26 2 10 3 0 2 31 2-30 2-7 2-14 3-23 2 60 2-8 2-45 2 32 2-6 3-12 2 0 2 23 2-39 2 15 3 10 2 1 2-6 2 9 2 9 3-29 2 22 2-12 2 39 2-57 3 25 2 19 2-18 2-4 2-3 2 18 3-29 2 22 2 0 2-24 2 38 3-20 2 15 2 11 2-16 2-32 3 31 2-42 2 17 2 49 2-28 3 33 2-36 2 7 2-22 2 46 2-20 3 14 2-2 2-3 2-5 2-10 3 0 2-12 2-33 2 49 2 30 3-24 2 27 2-35 2-24 2 1 3 34 2-5 2-9 2 18 2-30 2 29 3-18 2 7 2 19 2-30 2 29 3-1 2-42 2 62 2-71 2 25 3 16 2-58 2 72 2 1 2-26 2 8 3-4 2-9 2 24 2-29 2 5 3 3 2 10 2 8 2-49 2-7 3 41 2 3 2-23 2 26 2 7 3-4 2 24 2-54 2 18 2 31 2-30 3-33 2 29 2 18 2 20 2-29 3 10 2-50 2 22 2 31 2-44 3 17 2-36 2 65 2-35 2 7 3-36 2 2 2 61 2-41 2-4 2 22 3 2 2-49 2 24 2 18 2 1 3 9 2-15 2 4 2 12 2-20 3-4 2 6 2 13 2-6 2-6 3 0 2 3 2 3 2 1 2-33 2 41 3-53 2 40 2-27 2 22 2 8 3-54 2 43 2-11 2-17 2 11 3-17 2 7 2-24 2 27 2-9 3 0 2-24 2 38 2 3 2-38 2-5 3-2 2 20 2 7 2-29 2-19 3 45 2-5 2 4 2 10 2-20 3 22 2-5 2 17 2 16 2-18 2-16 3 42 2-10 2-18 2-28 2 21 3 21 2 8 2-19 2 21 2-20 3 7 2 21 2-19 2 8 2 10 3 4 2-35 2 7 2-19 2-2 2 26 3-16 2-28 2 46 2-32 2 4 3 1 2-13 2-20 2-48 2 21 3-42 2-36 2-35 2 16 2-39 3-24 2-11 2-14 2-15 2 31 2 15 3 11 2 35 2 29 2-10 2 26 3 39 2 11 2 18 2 25 2 12 3-8 2 19 2-3 2 13 2-14 3-13 2 29 2 1 2 25 2 11 2-29 3 6 2-18 2-1 2 11 2-1 3 12 2 1 2 27 2-35 2-27 3 32 2-18 2 14 2 14 2-36 3 3 2 7 2-27 2 11 2-5 2-11 3-16 2-28 2-27 2-53 2-56 3-30 2-34 2-85 2-97 2-75 3-94 2-119 2-95 2-117 2-92 2-94 3-56 2-62 2-9 2 3 2 38 3 40 2 62 2 65 2 71 2 82 3 77 2 79 2 80 2 75 2 61 3 53 2 41 2 48 2 23 2 36 2 30 3 15 2 18 2 21 2 30 2 7 3 3 2 25 2 7 2 44 2-6 3-6 2 35 2 16 2 5 2-3 3 16 2 9 2 17 2-5 2 32 2-37 3 25 2-23 2-27 2 3 2-20 3-12 2 21 2-46 2-11 2-44 3-23 2-47 2-16 2-46 2-34 3-29 2-11 2-34 2-13 2-22 2 8 3 13 2-6 2 38 2 9 2 19 3 19 2 23 2 23 2 43 2 17 3 29 2 9 2 16 2 49 2-9 3 28 2 35 2 21 2-17 2 35 2 17 3 8 2 0 2 30 2-13 2 8 3-27 2 41 2-34 2 52 2-1 3-17 2 17 2 0 2 0 2 10 2-8 3-6 2-7 2 46 2-27 2-9 3 17 2-23 2 1 2 18 2 11 3-4 2-37 2 29 2 3 2 9 3-24 2 1 2 21 2-17 2-5 2 18 3 20 2-17 2 17 2-41 2 29 3-15 2-18 2 9 2-14 2 11 3-5 2 37 2-33 2-20 2 25 3 12 2-13 2 26 2-33 2-1 2 49 3-27 2 7 2-4 2-1 2-12 3-5 2 25 2-32 2 12 2 11 3-19 2-20 2 40 2 18 2-15 3-37 2 46 2 23 2-70 2-21 2 44 3 5 2 11 2-1 2-13 2 12 3-3 2-2 2-1 2 1 2 18 3-8 2-18 2 29 2-36 2 10 3 3 2-38 2 29 2 22 2-2 2-36 3 3 2-7 2 17 2 7 2-34 3 30 2-7 2-2 2-13 2 9 3-32 2 33 2-4 2-2 2-18 2 42 3 2 2-55 2 43 2-4 2-50 3 55 2-2 2 1 2-13 2-20 3-1 2 14 2 8 2-33 2 1 3 10 2-55 2 33 2-24 2-44 2 21 3-49 2-13 2-37 2-79 2-62 3-62 2-96 2-74 2-101 2-97 3-116 2-87 2-85 2-79 2-37 3-29 2 10 2 12 2 40 2 48 2 47 3 61 2 73 2 62 2 73 2 75 3 68 2 74 2 62 2 64 2 41 3 60 2 25 2 54 2 40 2 30 3-27 2 16 2 0 2-34 2-7 2-23 3-24 2-7 2 6 2 36 2 44 3 26 2 59 2-32 2 26 2 21 3-21 2 14 2-5 2-28 2-28 3-9 2-34 2-29 2-37 2-48 2-39 3-33 2-31 2-38 2-27 2-33 3-16 2-18 2-10 2 14 2 11 3 11 2 32 2 59 2-11 2 75 2 31 3 37 2 37 2 35 2 68 2-2 3 31 2 41 2 13 2 12 2 16 3-4 2 45 2-26 2-19 2 60 3 0 2-2 2-17 2 31 2-39 2-19 3 40 2 11 2-2 2 26 2-23 3-14 2-1 2 19 2-13 2 0 3-27 2 25 2-21 2 31 2-5 3 12 2 18 2-37 2 28 2-51 2 16 3 6 2 6 2-58 2 4 2-7 3-19 2-32 2-29 2-22 2-20 3-56 2-18 2-65 2-91 2-62 3-68 2-80 2-84 2-94 2-69 2-56 3-55 2-34 2-5 2 11 2 20 3 39 2 54 2 49 2 62 2 78 3 57 2 80 2 60 2 76 2 43 3 74 2 43 2 38 2 32 2 41 2 19 3 21 2 51 2 12 2 24 2-27 3 2 2 14 2 43 2 7 2-45 3 55 2-28 2-10 2 20 2 12 2-17 3 4 2-10 2-5 2 22 2-18 3 43 2-27 2 43 2-49 2 56 3-43 2-7 2 23 2 14 2-20 3-2 2 42 2-27 2-35 2 19 2 43 3-29 2 8 2 26 2-52 2 20 3-24 2 17 2 10 2-38 2 33 3 2 2 18 2-30 2-14 2 32 3-25 2 23 2 7 2-28 2 14 2-19 3-33 2 28 2-9 2 36 2-21 3 20 2 1 2 27 2-27 2-3 3 21 2 21 2-32 2 11 2-9 3-11 2-23 2 27 2-7 2 2 2 41 3-43 2 13 2-12 2 35 2-27 3 45 2-38 2 16 2 10 2-24 3 24 2-17 2-18 2 1 2 19 3 27 2-38 2 16 2-26 2 19 2-32 3 11 2 15 2-15 2 7 2 21 3-17 2-14 2-11 2 13 2 28 3-25 2-1 2 26 2 3 2 1 2-26 3-9 2-10 2 24 2 9 2 22 3-10 2-18 2 26 2-45 2 3 3-4 2 6 2 17 2-14 2 0 3 38 2-53 2 14 2 16 2 16 2-3 3-15 2 1 2 4 2 23 2-32 3-29 2 50 2-31 2 23 2 29 3-28 2 34 2-67 2 34 2 0 3 6 2-33 2 17 2-4 2 1 2-29 3-9 2 45 2 0 2-1 2 12 3 11 2-38 2 38 2 12 2-9 3-6 2 0 2-44 2 19 2 30 3 6 2-19 2-16 2 8 2 16 2 22 3-24 2-23 2 22 2-2 2 39 3-34 2-11 2 1 2-22 2 3 3 11 2-7 2 17 2-3 2 16 3 11 2-26 2-5 2-32 2 42 2 6 3-26 2 10 2-6 2 35 2-10 3 7 2-51 2 80 2-70 2-3 3 25 2-16 2 47 2-43 2-2 2 35 3 4 2-42 2 7 2 0 2 3 3 36 2-11 2-4 2 0 2-25 3 13 2-21 2-13 2 46 2-67 3 33 2-15 2-20 2 24 2 12 2 8 3-23 2 33 2-10 2 14 2-52 3 33 2-1 2 25 2-24 2 4 3-13 2 1 2 4 2 37 2-39 3-28 2 51 2-16 2 16 2-2 2-18 3-8 2-1 2 8 2-13 2 20 3 21 2-39 2 4 2 2 2 28 3-3 2 17 2-17 2-10 2 5 3-35 2 37 2-6 2 38 2-14 2-43 3-1 2 27 2-57 2 27 2 23 3 0 2-4 2 22 2-30 2 12 3-8 2-20 2 20 2-12 2 16 3-58 2 55 2-13 2-1 2 14 2-8 3 25 2 4 2-8 2-2 2-10 3-6 2-29 2 19 2 32 2-6 3-22 2 11 2 22 2-29 2 35 2-44 3 31 2-3 2-9 2 6 2 2 3-57 2 56 2 14 2-16 2 14 3-47 2 21 2 6 2-11 2 26 3-15 2-21 2 27 2 2 2-27 2 22 3-3 2-2 2-29 2 50 2-11 3-12 2 5 2 6 2-14 2-9 3 17 2-13 2 2 2-16 2 16 3 26 2-19 2-5 2-8 2-4 2-23 3 63 2-47 2-15 2 36 2-4 3-12 2-19 2 3 2 59 2-32 3-12 2 46 2-47 2-10 2 26 3-3 2 22 2-61 2 33 2-38 2 46 3-22 2 2 2-5 2 28 2 9 3-34 2-7 2-8 2 9 2-32 3 70 2-77 2 13 2-41 2-44 3-28 2-14 2-34 2-28 2-44 2 3 3-34 2-65 2-3 2-13 2-23 3 0 2 15 2 7 2 0 2 42 3 8 2 48 2 1 2 14 2 53 2 42 3 18 2 19 2 8 2 46 2-23 3 56 2-17 2 20 2-4 2 13 3 51 2-42 2 31 2-15 2 36 3-42 2 26 2 22 2 28 2-69 2 5 3 17 2 28 2-49 2 35 2-26 3-10 2-8 2 38 2 17 2-24 3-38 2 34 2 31 2-1 2-11 3 22 2-57 2 1 2 79 2-32 2-18 3-5 2-40 2 69 2-58 2 8 3 39 2 28 2-40 2 20 2-18 3 14 2-38 2 79 2-61 2 32 3-52 2 74 2-31 2 35 2-54 2 34 3-26 2 1 2 27 2-44 2 39 3 25 2-9 2-14 2-12 2-30 3 49 2-44 2 38 2-30 2 10 3 0 2 13 2-26 2 14 2-15 2 20 3-8 2-2 2-27 2 26 2-6 3 14 2-11 2-19 2 37 2-27 3 23 2-51 2 52 2 3 2-33 2 34 3-22 2 34 2-16 2-44 2 27 3-30 2 30 2 14 2 4 2-21 3-2 2 11 2-10 2 16 2 16 3-18 2 19 2-31 2 12 2 15 2 34 3-24 2 13 2-33 2 22 2-62 3 41 2-54 2 65 2-16 2 17 3-14 2-21 2-4 2 18 2 27 3-17 2-21 2-1 2-9 2 8 2 2 3-8 2 12 2-31 2 62 2-26 3 28 2-19 2-7 2 6 2 2 3-18 2 6 2 46 2-18 2-31 3 22 2-28 2 46 2-51 2 40 2-20 3 2 2-19 2 8 2-13 2-3 3 27 2 44 2-61 2 31 2-20 3-12 2 44 2-15 2 10 2-20 3 1 2-19 2 9 2 37 2-79 2 52 3 25 2-11 2 3 2-19 2 30 3 2 2-22 2 34 2-39 2-42 3 49 2-4 2-21 2 10 2-1 2-24 3 59 2-26 2 55 2-53 2 10 3-37 2 49 2-41 2 29 2 11 3-4 2-32 2-1 2 29 2 13 3 3 2-33 2-1 2 39 2-46 2 31 3-22 2-22 2 0 2 33 2-3 3 5 2-22 2-6 2 13 2-12 3-29 2 24 2 45 2-47 2 28 3-10 2 16 2-30 2-3 2 38 2-21 3 9 2-8 2 27 2-14 2-2 3-25 2-16 2 12 2 33 2-4 3-3 2-26 2-14 2 44 2-20 3 8 2-31 2 6 2 28 2 2 2-32 3 26 2-29 2 46 2-16 2 31 3-19 2-40 2 15 2-11 2 14 3 13 2-12 2 4 2-29 2 40 3-13 2 14 2 4 2-20 2 12 2-26 3 31 2-14 2-9 2 6 2-21 3 16 2 2 2 11 2-6 2-11 3 5 2-40 2 36 2-2 2-5 2-7 3-34 2-13 2-24 2-22 2-18 3-10 2-63 2-12 2-19 2-41 3-11 2-38 2-4 2-18 2 18 3-5 2 24 2 5 2 11 2 23 2 29 3 23 2 18 2 23 2 26 2 32 3-1 2 30 2-9 2 47 2 1 3-1 2 7 2-16 2 40 2-1 3-15 2 23 2 22 2-4 2 3 2-14 3 26 2-18 2 17 2 28 2-84 3 31 2 11 2-12 2 35 2-26 3 40 2-20 2-5 2-6 2 15 3-7 2 21 2-19 2 11 2-13 2-1 3-37 2 31 2 11 2-31 2-5 3 19 2 11 2-40 2 35 2 12 3-28 2 10 2 2 2-24 2 28 3 2 2-32 2 40 2 6 2-34 2 35 3-22 2-22 2 5 2 2 2 27 3-17 2 0 2-17 2 26 2-21 3 10 2 27 2-2 2-22 2 6 2 11 3-9 2 20 2 4 2-27 2-26 3 25 2 30 2-5 2 3 2 0 3-29 2 13 2 22 2-13 2 12 3-38 2-3 2 62 2-26 2-2 2 17 3 9 2 12 2-104 2 56 2 12 3-57 2 2 2 32 2 42 2-18 3 27 2-37 2 12 2 16 2-18 3-12 2 2 2-79 2 79 2-47 2 19 3 34 2-11 2-50 2 52 2 4 3-8 2 13 2 3 2-45 2 27 3-1 2-20 2 22 2-15 2 17 3-19 2 37 2 23 2-52 2 10 2 2 3 10 2-14 2-44 2 56 2-12 3-18 2 13 2-7 2 15 2-12 3 6 2 7 2-1 2-5 2 21 3-19 2-21 2 52 2-30 2 25 2-51 3 34 2 22 2-8 2-17 2-12 3-1 2 10 2-18 2 5 2-6 3 1 2 24 2-43 2 38 2 7 2-33 3 2 2 16 2-1 2 23 2-56 3 39 2 30 2-21 2 32 2 8 3-51 2 40 2-20 2-14 2-6 3 2 2-18 2 14 2 21 2 5 2-29 3 17 2 2 2-58 2 63 2-39 3 0 2 40 2 19 2-60 2 4 3-2 2 7 2 4 2-5 2-17 3 68 2-45 2-3 2 34 2-28 2 34 3-7 2 0 2-26 2 24 2-48 3 1 2 30 2-8 2 32 2-39 3-26 2 40 2-10 2 12 2-27 3 7 2 18 2 14 2-2 2 6 2-46 3 24 2 10 2 13 2-15 2-9 3 5 2 3 2-29 2 28 2 15 3-5 2-51 2 39 2-33 2 51 3-15 2 4 2-27 2-26 2 20 2 14 3-24 2 16 2 52 2-58 2 35 3-44 2 39 2 10 2-10 2 14 3 8 2-65 2 31 2 9 2-6 2 27 3-24 2 24 2-2 2-19 2 9 3-28 2 21 2-2 2-4 2-9 3 27 2-16 2 47 2-15 2-10 3-26 2 32 2-17 2-1 2-26 2 31 3-8 2-13 2-7 2 7 2-24 3 16 2 42 2-40 2 58 2-73 3 43 2 4 2 1 2-12 2-46 3 51 2 0 2-19 2-47 2 72 2-42 3 15 2 28 2 4 2-17 2-18 3 45 2-10 2-27 2-12 2 26 3-32 2 62 2-25 2-19 2 13 3-44 2 31 2-16 2-23 2 20 2 18 3-39 2 24 2-25 2 34 2-36 3 52 2-5 2 9 2 23 2-32 3 0 2 9 2-18 2-33 2 13 3 6 2 23 2-19 2 4 2 15 2-6 3 32 2-40 2-17 2 44 2-36 3 10 2 24 2-14 2 9 2-27 3 6 2 15 2-25 2 1 2 1 2 33 3-5 2-24 2 0 2-15 2 42 3-14 2 14 2-47 2 44 2-10 3 14 2 7 2-21 2-6 2 21 3-38 2 51 2-24 2-30 2 44 2-12 3 13 2-11 2-12 2-17 2-15 3 35 2-1 2-19 2 24 2-32 3 39 2-19 2 7 2-20 2 37 3-14 2-15 2 12 2-7 2 29 2-49 3 5 2 61 2-54 2 14 2-18 3 18 2 42 2-95 2 50 2-9 3-1 2-13 2 1 2 46 2-15 3-33 2 23 2-29 2 80 2-49 2-40 3 49 2-7 2-8 2-1 2-15 3 8 2-34 2 66 2 13 2-26 3 0 2-42 2 15 2-19 2 4 3 33 2 12 2-34 2 45 2-31 2-53 3 32 2 25 2-21 2 17 2-51 3 52 2-49 2 28 2 27 2-36 3-5 2 12 2-29 2-3 2 34 2-39 3 2 2 53 2-56 2 32 2 10 3-20 2-15 2 37 2-34 2 54 3 2 2-57 2 30 2-21 2 19 3-12 2-12 2 32 2-38 2 38 2-6 3-12 2 35 2-14 2-8 2 4 3-2 2 23 2-23 2-50 2 0 3 38 2-2 2 23 2-19 2 10 3 43 2-49 2 44 2-21 2 33 2-13 3-14 2 18 2-12 2-26 2 30 3 4 2-11 2 9 2-9 2 13 3-11 2-27 2 25 2 38 2-18 3 14 2-34 2-9 2-16 2 24 2 14 3-5 2-4 2-25 2 13 2-17 3 31 2-2 2-25 2 19 2-45 3 63 2-32 2 10 2 18 2 2 3-31 2 48 2 6 2-15 2-6 2-19 3 22 2-46 2-8 2 29 2-1 3-20 2 55 2-66 2-15 2 35 3 44 2-15 2-6 2-3 2 9 2-9 3-2 2-5 2-30 2 51 2-29 3 11 2 0 2 10 2-33 2 32 3-2 2-18 2 1 2 5 2-20 3 14 2-16 2 45 2-40 2-3 2 23 3 3 2-19 2-11 2 27 2 12 3-51 2 52 2-53 2 51 2-16 3 1 2 16 2 16 2 12 2-12 3-17 2-40 2 15 2 11 2-10 2 23 3-14 2 37 2-40 2-20 2 10 3-1 2 25 2 11 2-4 2-6 3-30 2-9 2 7 2 17 2-12 3 12 2 12 2-21 2 31 2-49 2 29 3-17 2 25 2-17 2-11 2 11 3-15 2-2 2 34 2-29 2 37 3 20 2-59 2 23 2-22 2-34 3 33 2 26 2-48 2 18 2 3 2-22 3 29 2-7 2 15 2-13 2-23 3 24 2 9 2-22 2 15 2 2 3-50 2 51 2-46 2 12 2 29 2-17 3 3 2 41 2-39 2 43 2 12 3-10 2-45 2-10 2 34 2 40 3-46 2-11 2 9 2 18 2 11 3-23 2-3 2 11 2-8 2-8 2-21 3 32 2-16 2 2 2-1 2-11 3 29 2 11 2-10 2-22 2 21 3 12 2-12 2 18 2-43 2 22 3 27 2-8 2-21 2 4 2 34 2-22 3-37 2 18 2-17 2 0 2-16 3 29 2 27 2-26 2-41 2 29 3-38 2 26 2 8 2 5 2-26 3-7 2-9 2-13 2 18 2-44 2-16 3 44 2 2 2-59 2 37 2-3 3-12 2-5 2 20 2-3 2 24 3-17 2 33 2-20 2 41 2-7 3 8 2-19 2 6 2 8 2 26 2-30 3 2 2 17 2 18 2-4 2 1 3-20 2 17 2-4 2 44 2-22 3 11 2-41 2 27 2 7 2-26 2 6 3 2 2 15 2 2 2-30 2 38 3-2 2 4 2-23 2 15 2 29 3-6 2-36 2 39 2-41 2-11 3 40 2-19 2 34 2-48 2 9 2 15 3-11 2-16 2 7 2-4 2 0 3 3 2-29 2 47 2-30 2 5 3-9 2 11 2 21 2 6 2-20 3-3 2-16 2 5 2 9 2-7 2-18 3 23 2-21 2 57 2-37 2-17 3 17 2-19 2 5 2 31 2-8 3-46 2 2 2 10 2 46 2-40 3 0 2-10 2 31 2-3 2-45 2 15 3-15 2 13 2 7 2-9 2 12 3 25 2 7 2-17 2 10 2-35 3 48 2 14 2-42 2 16 2-4 3-45 2 60 2-8 2-34 2 26 2 35 3-10 2-35 2 17 2-3 2 15 3-17 2 11 2-3 2-24 2 37 3-6 2-16 2 29 2 29 2-73 2 36 3 13 2-16 2-11 2 55 2-56 3 7 2-8 2 35 2-67 2 24 3 10 2 19 2 0 2 16 2-22 3-12 2 13 2-13 2 7 2 2 2 13 3 13 2-37 2 13 2 11 2 1 3-8 2 16 2-18 2-35 2 65 3-51 2 57 2-26 2 4 2-34 3 34 2-10 2-10 2 24 2 5 2 6 3-50 2 9 2 42 2-14 2 4 3-27 2 16 2 8 2-38 2 12 3 18 2 24 2-35 2 28 2-26 3-5 2 37 2-32 2 20 2-13 2 22 3-34 2-9 2 2 2 24 2 27 3-13 2-11 2-5 2 25 2-26 3 26 2 4 2-16 2-5 2 2 3-7 2 9 2-23 2-3 2 43 2-32 3-30 2 62 2 0 2-18 2-35 3 62 2-15 2 7 2-31 2 13 3-15 2-2 2-21 2 8 2 6 2 9 3 19 2-9 2-46 2 60 2-48 3 39 2-13 2 10 2-9 2-13 3 53 2-80 2 26 2 42 2-26 3 0 2-22 2-2 2 36 2-17 2 11 3 10 2-49 2 15 2 11 2 18 3 9 2-37 2 19 2 1 2 0 3 35 2-47 2 14 2-48 2 42 3 5 2 10 2-23 2 0 2-14 2 18 3 55 2-84 2 1 2 34 2-20 3 42 2-54 2 67 2-43 2-20 3-8 2 24 2 7 2 22 2-29 3 83 2-48 2-21 2-9 2 61 2-68 3 26 2 14 2-51 2 30 2-24 3 37 2 0 2-17 2-10 2-21 3 75 2-19 2-17 2 19 2-30 3-23 2 44 2-35 2 5 2 22 2-45 3 34 2-5 2-15 2 0 2 25 3-4 2 10 2-33 2 32 2-31 3 5 2 34 2-33 2 1 2-9 2 17 3 17 2-19 2 22 2-39 2 35 3-10 2 2 2-18 2 3 2 19 3-38 2 44 2-21 2 17 2-34 3-10 2 46 2 2 2-15 2 16 2-19 3 14 2-10 2-22 2 42 2-44 3 65 2-47 2-15 2 13 2 5 3 3 2 8 2-22 2-28 2 22 3 28 2 15 2-58 2 41 2 18 2-49 3 60 2-47 2 14"/>
<path stroke="#000" d="M155 6815l2-93 2 60 3-19 2 3 2 4 2-40 2 38 3-13 2 85 2-63 2-12 2 2 2-10 3-7 2 10 2 16 2-12 2 24 3-20 2 5 2 30 2-18 2-22 3 10 2 18 2 28 2-41 2-1 3 25 2-36 2 13 2 25 2-5 2-10 3 12 2-69 2 73 2-37 2-13 3 40 2 7 2-21 2-8 2 25 3-5 2 34 2-14 2-14 2 20 2-21 3-20 2 25 2 0 2-11 2-11 3 19 2-55 2 62 2-7 2-37 3 35 2-18 2 32 2-53 2 27 3 37 2 8 2-63 2 34 2 17 2-21 3 44 2-58 2 28 2-36 2 50 3-25 2-7 2-25 2 69 2-19 3 2 2 9 2-9 2-19 2-7 3-1 2 44 2-55 2 19 2 7 2 11 3 4 2-40 2-8 2 32 2 25 3-13 2-11 2-13 2 11 2-7 3 25 2-32 2 20 2-5 2 17 3-6 2 47 2-21 2 1 2-71 2 34 3 1 2 25 2-57 2 71 2 0 3-43 2 10 2 3 2 21 2 6 3 27 2-46 2 16 2-16 2 34 3-20 2 13 2-54 2 22 2-14 2 49 3-10 2-14 2-4 2 17 2-24 3-4 2 23 2 42 2-57 2-9 3-14 2-7 2 39 2 9 2-17 2 12 3-5 2 1 2-31 2 20 2 13 3-17 2 7 2-7 2 8 2 23 3-24 2 4 2 21 2-4 2 22 3-76 2 58 2-26 2 13 2 16 2 8 3-1 2-14 2 29 2-34 2 5 3 19 2-27 2 55 2-25 2 28 3-50 2-6 2 9 2 12 2-27 3 20 2-11 2 33 2-49 2 37 2-36 3-6 2 3 2-6 2 27 2 24 3-19 2 11 2 18 2-28 2 1 3-8 2-29 2 47 2-51 2 45 3-10 2 27 2-21 2-18 2 28 2-18 3 9 2 4 2-3 2-4 2-12 3 11 2-39 2 36 2-21 2 43 3 3 2-64 2 44 2-5 2-16 3 34 2-20 2-23 2 30 2 3 2 6 3-25 2 35 2 1 2-41 2 12 3 12 2-9 2 49 2-29 2-29 3 4 2 12 2 45 2-51 2 2 2 10 3-17 2 45 2-50 2 26 2-8 3 15 2-36 2 64 2-40 2 6 3-18 2 1 2 25 2 9 2-5 3 11 2-11 2-13 2 18 2-4 2-15 3 14 2 11 2-20 2-11 2 19 3 28 2-45 2 3 2 0 2 33 3-59 2 42 2 16 2-39 2 43 3-17 2-25 2 18 2-35 2 19 2 47 3-55 2 57 2-37 2 22 2-17 3-45 2 31 2 15 2-28 2-5 3 33 2-22 2-20 2 20 2 30 3-26 2 28 2 11 2-28 2-21 2-4 3 23 2 17 2-14 2 5 2-19 3 18 2-14 2 0 2-20 2-5 3 24 2-8 2 5 2 35 2-14 3 59 2-41 2-28 2 29 2-7 2-23 3 36 2-42 2-46 2 77 2-26 3 45 2-47 2-11 2 55 2-51 3 29 2 23 2-24 2-2 2-2 2 19 3-36 2 24 2-4 2 33 2-55 3-9 2 30 2-19 2 15 2 4 3 25 2-32 2 12 2-46 2 30 3 49 2-44 2 2 2-10 2 38 2-12 3-27 2 39 2-6 2 13 2-29 3 43 2-30 2-11 2-3 2 6 3 22 2-21 2 30 2-6 2 16 3-14 2-17 2-40 2 41 2 11 2-14 3 7 2-24 2 6 2-9 2 47 3-19 2-11 2-18 2 20 2 33 3-20 2-28 2 39 2 0 2-9 3 0 2 3 2-13 2 8 2-32 2 45 3-21 2 37 2-82 2 54 2 7 3-21 2 9 2 8 2 0 2-21 3 6 2 19 2 6 2-21 2-4 3 3 2 16 2-42 2-3 2 31 2-21 3 10 2 13 2 11 2-27 2 36 3-48 2 42 2-42 2 4 2 38 3-18 2-6 2 5 2 18 2-12 2 1 3 21 2-38 2 6 2-5 2 32 3 0 2 11 2-29 2-1 2 16 3-23 2 27 2-2 2-30 2 11 3-5 2 38 2 21 2-50 2 3 2-44 3 52 2-1 2-22 2 37 2-44 3 22 2 6 2-31 2 38 2 1 3-50 2 0 2 44 2-18 2-21 3 18 2 5 2 0 2 23 2-9 2 27 3-6 2-10 2 8 2 4 2-9 3-39 2 41 2-17 2 31 2-36 3 7 2-7 2 28 2-31 2-7 3 15 2-10 2 11 2-3 2 10 2 34 3-44 2 11 2-8 2 16 2-37 3 12 2 14 2 10 2-9 2-12 3-9 2 29 2 17 2-27 2-2 3 4 2-27 2 9 2 2 2 11 2-5 3-21 2 50 2 11 2-37 2 11 3-2 2 10 2-45 2 63 2-42 3 34 2-23 2-9 2 7 2 23 2-34 3 9 2-6 2-25 2 58 2-12 3-9 2 23 2-44 2 17 2 34 3-10 2-63 2-22 2 45 2 42 3-29 2 8 2 14 2-28 2 18 2 9 3-4 2 1 2-24 2 21 2-19 3 38 2 26 2-66 2-25 2 32 3 13 2 17 2 3 2-41 2 0 3 43 2-47 2 41 2-28 2 17 2-2 3 3 2 0 2-38 2 27 2-2 3 6 2 21 2-32 2-8 2 0 3 12 2 22 2-32 2 36 2-15 3-10 2-18 2 34 2 8 2-50 2 62 3 10 2-25 2 2 2 40 2-23 3-44 2 19 2-4 2-3 2-46 3 64 2-28 2 16 2-9 2 21 3-23 2-9 2 27 2 17 2-29 2 34 3-19 2-15 2 38 2-45 2 37 3-30 2 22 2-41 2 9 2 35 3-18 2 1 2-13 2 15 2-36 2 5 3 18 2-16 2 6 2 13 2-2 3-1 2 41 2-10 2 4 2-25 3-6 2-23 2 25 2-35 2 32 3 26 2 15 2-12 2-32 2 29 2-21 3 30 2-14 2 21 2 34 2-33 3 29 2-41 2-11 2 31 2 5 3-50 2 11 2-30 2 26 2 13 3-21 2-15 2-24 2 27 2 2 2-14 3-24 2-44 2 30 2-54 2-24 3-8 2-52 2 15 2-3 2 15 3 28 2 5 2-9 2 41 2 31 3 14 2-6 2 7 2 51 2 1 2 0 3-29 2 73 2-90 2 55 2 48 3-43 2 3 2-24 2 49 2-53 3 28 2-2 2-21 2 38 2-48 3 21 2 14 2-6 2 22 2 6 2-24 3-6 2 3 2 5 2 21 2-20 3 13 2-7 2-16 2 32 2-39 3 23 2 28 2-46 2 25 2-36 2 19 3-16 2 23 2-7 2 11 2 29 3-27 2 4 2-12 2-2 2-10 3-15 2 39 2 30 2-22 2-23 3 37 2-39 2-12 2-14 2-1 2 12 3 38 2-45 2-18 2 8 2 7 3-26 2 29 2 11 2-12 2 0 3-36 2-7 2 47 2-9 2-48 3 25 2-6 2 7 2-9 2-15 2 6 3-5 2-7 2-30 2-19 2 29 3-16 2 26 2 5 2-6 2-9 3 6 2 16 2-27 2 25 2-2 3-1 2 20 2-30 2 28 2-24 2 4 3 1 2 29 2-18 2 19 2-17 3 39 2 20 2-24 2 31 2-17 3 30 2-28 2-29 2 60 2-24 3-16 2 8 2-19 2 33 2-9 2 45 3-13 2-39 2 2 2 21 2-24 3 37 2-1 2-17 2 8 2 19 3 14 2 1 2-30 2 18 2-32 2 25 3-30 2 32 2-39 2 9 2 18 3 13 2-40 2 18 2 11 2 6 3-17 2 18 2-6 2 38 2-17 3-34 2-16 2 45 2 21 2-18 2 16 3-29 2-17 2 39 2-11 2 13 3-38 2 29 2-21 2 29 2-27 3-4 2 5 2 34 2-27 2-17 3-5 2 1 2 50 2-67 2 19 2 28 3 11 2-24 2 17 2 0 2 7 3-20 2 33 2-22 2 26 2-53 3 39 2-43 2-4 2 38 2-24 3 24 2-34 2 55 2-32 2-23 2 30 3 12 2-32 2 28 2 32 2-22 3-19 2-10 2 20 2-44 2-31 3 45 2-8 2 58 2-32 2-18 3-4 2 38 2-27 2 10 2 13 2 0 3-3 2-2 2 19 2 10 2-67 3 86 2-53 2 19 2-36 2 19 3-3 2-4 2 11 2 0 2-36 2 21 3 21 2-4 2-18 2 4 2 8 3-21 2-9 2 61 2-42 2 7 3-14 2 42 2 8 2-41 2 16 3-25 2 45 2-16 2-37 2 42 2-18 3 0 2 3 2-19 2 3 2 26 3-13 2-19 2 58 2-46 2-8 3-6 2 25 2 10 2-16 2 16 3-45 2 25 2 3 2 9 2 13 2-47 3 100 2-79 2 22 2 6 2 3 3-15 2-58 2 33 2 36 2-33 3-3 2-24 2 74 2-16 2-26 3 15 2 1 2-17 2 17 2 11 2 3 3 14 2-25 2-8 2 18 2-21 3-15 2 50 2-28 2 11 2 12 3-36 2 33 2-6 2-14 2 12 3-23 2-28 2 38 2-14 2 38 2-9 3-16 2 12 2 28 2-4 2-20 3 4 2-12 2 1 2 14 2-13 3 8 2-29 2-9 2 2 2 26 2 36 3-2 2-47 2-10 2 50 2-9 3-39 2 49 2-20 2 20 2-24 3 15 2-11 2-24 2 14 2-7 3 30 2-36 2-11 2 49 2 6 2 7 3-11 2-48 2 14 2 7 2 9 3-40 2 40 2 9 2-27 2 22 3 17 2-19 2 18 2-1 2-11 3 4 2-16 2 34 2-34 2 0 2 28 3-31 2 23 2 6 2-21 2-3 3 15 2 1 2-51 2 5 2 54 3-19 2-42 2 14 2 28 2-18 3 25 2-7 2 6 2-31 2 34 2 22 3-54 2 40 2-8 2-6 2-15 3-22 2 3 2 34 2 7 2 4 3-2 2-1 2-27 2-12 2 29 3 7 2-9 2-34 2 18 2-24 2 29 3-26 2 11 2 3 2-8 2 11 3-51 2-33 2 34 2-13 2-25 3-42 2-28 2-41 2-45 2-22 2-12 3-27 2 10 2-35 2 12 2 25 3-1 2 11 2 14 2 22 2 37 3-1 2 10 2-3 2 20 2-4 3-11 2 4 2 7 2 17 2-8 2 13 3 27 2-24 2 4 2 41 2 5 3 5 2 14 2 3 2 25 2 1 3 27 2-22 2 13 2 28 2-3 3 28 2-11 2-6 2 13 2-12 2-23 3 1 2-3 2 0 2-2 2 1 3-15 2 12 2-11 2-17 2 36 3 3 2-19 2 24 2 24 2-5 3 19 2-5 2 8 2-15 2 16 2-8 3 21 2-39 2 40 2 22 2-13 3-8 2 10 2-32 2-1 2 8 3 1 2 22 2-38 2 35 2-50 3 17 2 20 2 25 2-37 2-31 2 52 3-11 2-19 2 0 2 7 2 15 3 12 2-42 2 76 2-44 2-4 3 17 2-12 2 43 2-26 2-32 2 1 3-1 2 4 2 17 2-24 2 48 3-32 2 4 2 23 2-56 2 16 3 29 2-11 2-1 2 4 2-20 3 8 2-25 2-12 2 69 2-46 2 7 3 45 2-2 2-34 2-8 2 10 3-16 2 27 2-7 2-3 2 12 3-2 2 23 2-1 2-62 2 52 3-40 2-7 2 44 2-29 2 10 2 28 3-35 2-5 2 24 2 18 2-11 3-43 2 18 2 11 2 43 2-19 3-1 2 7 2-31 2 14 2 1 3-28 2 17 2 13 2-34 2 35 2-2 3 7 2-34 2 19 2 27 2-16 3-35 2 23 2 26 2-30 2 9 3 44 2-52 2-3 2-18 2 6 3 41 2-34 2-18 2 7 2 18 2 17 3-30 2 31 2-23 2 17 2 2 3 1 2-20 2 6 2 15 2-40 3 28 2 9 2 12 2-23 2-5 2 6 3-20 2 6 2 15 2-7 2-28 3 12 2-34 2 57 2-28 2 19 3-26 2 21 2 12 2 9 2-49 3 46 2-20 2-13 2 24 2-16 2 0 3-6 2 18 2 0 2-7 2-16 3 8 2 14 2 22 2-25 2 29 3-26 2-23 2 36 2-34 2 30 3 17 2-30 2 5 2 52 2-42 2 3 3 8 2-17 2 2 2 8 2-54 3 73 2-46 2-1 2 32 2-8 3-24 2 29 2-27 2 4 2-12 3 13 2 20 2-6 2 5 2 13 2-18 3-9 2 10 2 35 2-32 2 10 3-10 2 8 2 2 2-10 2-8 3-10 2 2 2 26 2 4 2-1 3-19 2-14 2 28 2 3 2-46 2 42 3-9 2 20 2-51 2-1 2 40 3-53 2 20 2-6 2 1 2-15 3 33 2 25 2-14 2 2 2-17 2 37 3-18 2 12 2-55 2 39 2-31 3 28 2-6 2-25 2 25 2 19 3-15 2 4 2-27 2 7 2-4 3 27 2 25 2-14 2-6 2-21 2 32 3-14 2-33 2 2 2 27 2-13 3 49 2-32 2-21 2 10 2 40 3-50 2 35 2-8 2 20 2-15 3-18 2 21 2-7 2 18 2-23 2 41 3-42 2 11 2-22 2 17 2-4 3 1 2 11 2-25 2-9 2 40 3-30 2-6 2 34 2-5 2-68 3 49 2 24 2 0 2-23 2 42 2-46 3 10 2 5 2-2 2 15 2 2 3-20 2 28 2-41 2 8 2 41 3-31 2 19 2-26 2-1 2 2 3 3 2-8 2 5 2 13 2 11 2-19 3 6 2 10 2-36 2-10 2 62 3-8 2-26 2 3 2-26 2-10 3 33 2-41 2 49 2-32 2 26 2 33 3 1 2-41 2 30 2-44 2 12 3 19 2 21 2-42 2 18 2-11 3-27 2 22 2 32 2-33 2 11 3 2 2-38 2 43 2 4 2-2 2-9 3-35 2-3 2-1 2 0 2 8 3 35 2 13 2-40 2 26 2-37 3 22 2-15 2-15 2 35 2 1 3-14 2-3 2-4 2 13 2-13 2 14 3-25 2 24 2 6 2 16 2 0 3-20 2-16 2-21 2 39 2 25 3 7 2-84 2 37 2 4 2-10 3 27 2-6 2-14 2 12 2-31 2 14 3-2 2 35 2-56 2 24 2 22 3-11 2 19 2-30 2 19 2 15 3 30 2-26 2 15 2-32 2-2 3 32 2-20 2 16 2-17 2 26 2 6 3-65 2 55 2-30 2-1 2-11 3 16 2-38 2 8 2-1 2 24 3 13 2-5 2-11 2-23 2-23 2 45 3-6 2 4 2 18 2-33 2 1 3-42 2 56 2-12 2-13 2 19 3-29 2 13 2 50 2-23 2 5 3 0 2 2 2-9 2 47 2-48 2 14 3-19 2-5 2-43 2 10 2 64 3-4 2-40 2 7 2 13 2-34 3 61 2-58 2 5 2-41 2 86 3-28 2 35 2-54 2 29 2-11 2 6 3 40 2 4 2-19 2-38 2 23 3 12 2-20 2 2 2-5 2-33 3 24 2 26 2-53 2 19 2 16 3-42 2 27 2-26 2 26 2-9 2 12 3 10 2 5 2-1 2-44 2 78 3-39 2-16 2 3 2 16 2-27 3 12 2-3 2 20 2-28 2 25 3-4 2-7 2 26 2-24 2-22 2 32 3-2 2-1 2 3 2 44 2-42 3 8 2-15 2 28 2-33 2-17 3-12 2 31 2 1 2-49 2 11 2 17 3-2 2-49 2-1 2 0 2-43 3-33 2-39 2-55 2-39 2-63 3-90 2-73 2-90 2-115 2-115 3-136 2-130 2-153 2-141 2-159 2-152 3-149 2-140 2-131 2-117 2-99 3-79 2-58 2-38 2-7 2 10 3 38 2 63 2 88 2 98 2 120 3 140 2 144 2 149 2 143 2 157 2 152 3 140 2 126 2 133 2 108 2 110 3 118 2 74 2 53 2 60 2 75 3 35 2 52 2 15 2 30 2 26 3-8 2 0 2 26 2 14 2 12 2 10 3-2 2 11 2-30 2 40 2-1 3-41 2-12 2 3 2-31 2-25 3-26 2-25 2-23 2 15 2 8 3-20 2 30 2 24 2 10 2 10 2 22 3-9 2 46 2 1 2 53 2-20 3-20 2 9 2 39 2-1 2-26 3-5 2-25 2 22 2 4 2-11 2 46 3-68 2 35 2 7 2 1 2 25 3-65 2 14 2 18 2 4 2-13 3-6 2 39 2-44 2 15 2 39 3 4 2-16 2-34 2-2 2-1 2-1 3 17 2 28 2-17 2-18 2-6 3-7 2 45 2-63 2 42 2-34 3 8 2-6 2 49 2-17 2 55 3-70 2 1 2 36 2-2 2-16 2-38 3 67 2-20 2 1 2-19 2 21 3-24 2 12 2-7 2 27 2-36 3 6 2 26 2-19 2-3 2-10 3 25 2-30 2 28 2 33 2-39 2-27 3-9 2 25 2-26 2-9 2 16 3-11 2 38 2-43 2 62 2-43 3 15 2 12 2-8 2 5 2-30 3-25 2 41 2-28 2 17 2 29 2-21 3-7 2-5 2 15 2 3 2-27 3 33 2-28 2 29 2-14 2 28 3-3 2-19 2-4 2 12 2 22 2-6 3-19 2 3 2 21 2-62 2 43 3-32 2 42 2-37 2 7 2-18 3 20 2 13 2 10 2-57 2 16 3 73 2-57 2-20 2 1 2-56 2 65 3-35 2-39 2 20 2-46 2-32 3-12 2-36 2-52 2-36 2-54 3-43 2-23 2-38 2-42 2-29 3-23 2-7 2-4 2 31 2 4 2 35 3 28 2 25 2 66 2 18 2 35 3 46 2 23 2 41 2 15 2 49 3 17 2-3 2 54 2 2 2-6 3 35 2 6 2 33 2-47 2 33 2-13 3 10 2-20 2-8 2 0 2-32 3-21 2 27 2-12 2 7 2 11 3-11 2 35 2-10 2 8 2 17 3 2 2-8 2 9 2-13 2 5 2 12 3 16 2-22 2 25 2 19 2 3 3-40 2 15 2-6 2 4 2-4 3-8 2 1 2-16 2-12 2-1 2-6 3-3 2-33 2-19 2-16 2-60 3-28 2-32 2-55 2-63 2-41 3-70 2-72 2-47 2-83 2-54 3-56 2-38 2-27 2-22 2 4 2 9 3 13 2 35 2 27 2 31 2 37 3 45 2 48 2 41 2 59 2 18 3 46 2 57 2 30 2 54 2 29 3 47 2 35 2 37 2 22 2 29 2 12 3 25 2 11 2-5 2 1 2 5 3 39 2-41 2 46 2-12 2 27 3-6 2-13 2 15 2-39 2 47 3 5 2-43 2 52 2-12 2 4 2-24 3 38 2 0 2-12 2-19 2 37 3 9 2-18 2 10 2-32 2 11 3 4 2-12 2 44 2-55 2-29 3 13 2-37 2 16 2 2 2-23 2 9 3-5 2 26 2 0 2 51 2-10 3-6 2-18 2 71 2-7 2-11 3-4 2 3 2-11 2 48 2-33 2-29 3 15 2-43 2 69 2 3 2 17 3 4 2-57 2 26 2 11 2-3 3-22 2 26 2-5 2 18 2-22 3-8 2-8 2 4 2-10 2 7 2 13 3 2 2 18 2-8 2-9 2-33 3 31 2 13 2-50 2 0 2 2 3-6 2 15 2-9 2 27 2-31 3 21 2-7 2-9 2 42 2-16 2 12 3-21 2 19 2 1 2-13 2-30 3 56 2-5 2-12 2-1 2 2 3 1 2-29 2 19 2 8 2-23 3-10 2 59 2-24 2-23 2-4 2-38 3 22 2 21 2 33 2-64 2 29 3 55 2-22 2-6 2 14 2-28 3 0 2 17 2 2 2-40 2 51 3-69 2 23 2 76 2-68 2 22 2-29 3 16 2-5 2 3 2 22 2 21 3-17 2 17 2-36 2 35 2-22 3 14 2-32 2 7 2 34 2-18 2-15 3-15 2 13 2 14 2 4 2-23 3 4 2 15 2-28 2 47 2-23 3-1 2-44 2 15 2 8 2 8 3-14 2 31 2-9 2-9 2-37 2 71 3-35 2 15 2-26 2 13 2 15 3-11 2 16 2-26 2 35 2-82 3 19 2 14 2-34 2-14 2-24 3 51 2-41 2 57 2 7 2 19 2 17 3-39 2-3 2 13 2-28 2 53 3-25 2 12 2-24 2 27 2-13 3 11 2-22 2 45 2-33 2-38 3 61 2-20 2-14 2 65 2-52 2-29 3 14 2 21 2-10 2 32 2-3 3-37 2 17 2 11 2-16 2-1 3 28 2-12 2-40 2 15 2 6 3 4 2-12 2 45 2-47 2-4 2 24 3-47 2 28 2 31 2-35 2 9 3 33 2-13 2-8 2 5 2-18 3 18 2-9 2 49 2-37 2-16 2 7 3 2 2-27 2 12 2 45 2-57 3 18 2 33 2 11 2-52 2 51 3-36 2 39 2-18 2-19 2 18 3-2 2-26 2 61 2-51 2 32 2-33 3-27 2 14 2 22 2 14 2 19 3-33 2-7 2-22 2 23 2 4 3-49 2 73 2-5 2 22 2-65 3 19 2 0 2-24 2 11 2-5 2 28 3-1 2 20 2-33 2-21 2 36 3-2 2 9 2 16 2-37 2 27 3-36 2 23 2 10 2-17 2 3 3-37 2 11 2 14 2-27 2 3 2 60 3-43 2-22 2-5 2 45 2-77 3 39 2 16 2-23 2 18 2-30 3 19 2-1 2 2 2 0 2 2 3 19 2-27 2-8 2 4 2-1 2-19 3-13 2 8 2 27 2-15 2 9 3 58 2-30 2-24 2-8 2 42 3-34 2 39 2-14 2 13 2-37 2 32 3-48 2 30 2 23 2-7 2-49 3 52 2-3 2-8 2-9 2 9 3-1 2 29 2-13 2 14 2-10 3-37 2 31 2 35 2-63 2 28 2-16 3 1 2 21 2 15 2 1 2-8 3 15 2-53 2 48 2-9 2-9 3 4 2-17 2 36 2-36 2-15 3 32 2-15 2 6 2 30 2-30 2 10 3 46 2-77 2 30 2 15 2 10 3 19 2-59 2 24 2-18 2-8 3-4 2-12 2 34 2 7 2-41 3 36 2-28 2-11 2-33 2 73 2-8 3-17 2-3 2-14 2 34 2-14 3 14 2-11 2-31 2-3 2 32 3-39 2 34 2 11 2-44 2 30 3-14 2-2 2-33 2 2 2-10 2 1 3-36 2-25 2-43 2 3 2-27 3-4 2-4 2 5 2-2 2 0 3 7 2 26 2-17 2 25 2 31 2-8 3 31 2 15 2 29 2-1 2-32 3 37 2 15 2 19 2 1 2 32 3-8 2-38 2 14 2-26 2 77 3-35 2 3 2-26 2 24 2 15 2-12 3 5 2-5 2 50 2-47 2-17 3 13 2 1 2 5 2-7 2-20 3 21 2 14 2-38 2 66 2-4 3-70 2 33 2 33 2 7 2 6 2-74 3 14 2 11 2 22 2-32 2 27 3-1 2 6 2-41 2 31 2-5 3-11 2 36 2-32 2 40 2-38 3 47 2 1 2-51 2 22 2 4 2-26 3 34 2-4 2-31 2 22 2 16 3-25 2-7 2 43 2-56 2 29 3 13 2-9 2-55 2 32 2 9 3-4 2 21 2 1 2-7 2 1 2 17 3 7 2-66 2 83 2-53 2 27 3-49 2 18 2-18 2 45 2-8 3-17 2-5 2 9 2-29 2 6 2-1 3 35 2-9 2-24 2 32 2 4 3 17 2-38 2 18 2 38 2-52 3-4 2 20 2-20 2 13 2-12 3-5 2 37 2-27 2-9 2 14 2-1 3 9 2 9 2 21 2-59 2 17 3-35 2 41 2 5 2-25 2-7 3 1 2-9 2 43 2 27 2-60 3 56 2-36 2-23 2 42 2 4 2-13 3-15 2 39 2-40 2 19 2-1 3-33 2-21 2 2 2 30 2 12 3-40 2 16 2 47 2-65 2 47 3 1 2 8 2-45 2 37 2-36 2 60 3-44 2 27 2-23 2 15 2-34 3 35 2 7 2-15 2 33 2-28 3 5 2-5 2 25 2-51 2 5 3 1 2 19 2-8 2 10 2-10 2-17 3 12 2 10 2-52 2 73 2-42 3 4 2 13 2-13 2-22 2 24 3 30 2-4 2 4 2-36 2 5 2 28 3 13 2-29 2-21 2-12 2 66 3-61 2 40 2 8 2 45 2-64 3-8 2 16 2-3 2 18 2-11 3-31 2-22 2 52 2-19 2 42 2-60 3 29 2-20 2-5 2 56 2-34 3-7 2 20 2-30 2 12 2-8 3 55 2-33 2 7 2 12 2-29 3 0 2-31 2 45 2-1 2-14 2 33 3-63 2 45 2-36 2 4 2 22 3 31 2-51 2 3 2-3 2 66 3-29 2-2 2 33 2-39 2-47 3 33 2-15 2 65 2-70 2 36 2-20 3 4 2 12 2-4 2-15 2-9 3 15 2-8 2 0 2 22 2-8 3 11 2-19 2 47 2-53 2-6 3 41 2-33 2 19 2 16 2-24 2-6 3 27 2-16 2-17 2-12 2 18 3-28 2 18 2-4 2 28 2 11 3-30 2 2 2-11 2-10 2 21 2 18 3-4 2 4 2-20 2-49 2 72 3 4 2-8 2 2 2 2 2 33 3-45 2 27 2-17 2 2 2-23 3-6 2-20 2 36 2-21 2-22 2 5 3-9 2 42 2-37 2-1 2-30 3-5 2 27 2-37 2-10 2 3 3-17 2-42 2-26 2-28 2-30 3 3 2-51 2-3 2-28 2 4 2 21 3 8 2 8 2 9 2 11 2 18 3 21 2 37 2 28 2 4 2 2 3 10 2 30 2 8 2-16 2 64 3-11 2 0 2-2 2 9 2 38 2-29 3 22 2 16 2 29 2-23 2-14 3-4 2 26 2 5 2-27 2 21 3-14 2-33 2 14 2 37 2 15 3-16 2-15 2-11 2 25 2-5 2-40 3 47 2-29 2 28 2-3 2 0 3 6 2-6 2-38 2-1 2 43 3-8 2-42 2-12 2 60 2 28 2-31 3-18 2 14 2-63 2 34 2 42 3 1 2-60 2 67 2-12 2 9 3-24 2 8 2-23 2 29 2 13 3-38 2 26 2-17 2 29 2-4 2-72 3 55 2 11 2-36 2 6 2 2 3-23 2 23 2 37 2-23 2 23 3-11 2 5 2-20 2 14 2 27 3-11 2-29 2-21 2-2 2 24 2 5 3-45 2 44 2 2 2-3 2-16 3 60 2-31 2-49 2 14 2 29 3-7 2-8 2-1 2-4 2-4 3-11 2 37 2-72 2 44 2 37 2-40 3-10 2 64 2-17 2-26 2-15 3 11 2-3 2 1 2-9 2 27 3-21 2-24 2 12 2 25 2-20 3-31 2 85 2-23 2-20 2-3 2 21 3 18 2-36 2 20 2-20 2 20 3-28 2-14 2 41 2-5 2 15 3-27 2 40 2-30 2 24 2-37 2 39 3-33 2 5 2 16 2-60 2 17 3 60 2-64 2 20 2 25 2 17 3-42 2 12 2-28 2 13 2 31 3-14 2-8 2 4 2-4 2 1 2-8 3-9 2 38 2-36 2 44 2 21 3-10 2 16 2-69 2 27 2-23 3 2 2-23 2 9 2 43 2-4 3 6 2 0 2-5 2-36 2 10 2 21 3 9 2-33 2-3 2 4 2 41 3-26 2-18 2-8 2 23 2-41 3 31 2-4 2 1 2 16 2 7 3 55 2-61 2 11 2-34 2-17 2 53 3 13 2-62 2 21 2 28 2-19 3-49 2 70 2-27 2 20 2-34 3 38 2-1 2-37 2 27 2-26 3 8 2-9 2 9 2-3 2 40 2-24 3-19 2 49 2-13 2 5 2-18 3 18 2-16 2-13 2 17 2-3 3-1 2 13 2-53 2 44 2-25 2 9 3 10 2-5 2-15 2 30 2-18 3 22 2 4 2-36 2-14 2 24 3 15 2-7 2-31 2-11 2 14 3-2 2 35 2-9 2 18 2-17 2 33 3-37 2 12 2-19 2 18 2 11 3-8 2 11 2-41 2 24 2 32 3-29 2-7 2-3 2-5 2 14 3 25 2-18 2-12 2-18 2-3 2 73 3-57 2 14 2-13 2 13 2-10 3 9 2 30 2-50 2 23 2-13 3 14 2-25 2 23 2-27 2-15 3 4 2 9 2 2 2 20 2 29 2-49 3 30 2-8 2-17 2-6 2 27 3-3 2-18 2 5 2 0 2-24 3 28 2 4 2 31 2-57 2 7 3 22 2-13 2 5 2 6 2-6 2 7 3 9 2-41 2 44 2-60 2 82 3-17 2-30 2 32 2-23 2 11 3 1 2-11 2-5 2 10 2-14 2-2 3-13 2-18 2 69 2-16 2-41 3 37 2-6 2-45 2 26 2 13 3 36 2-12 2 6 2-17 2 10 3-40 2 29 2 4 2-38 2 30 2 28 3 9 2-12 2-40 2 15 2-9 3 36 2-41 2-3 2-12 2 34 3 8 2-20 2-5 2 12 2 29 3-52 2 27 2 1 2 5 2 16 2-11 3-13 2 21 2-6 2-19 2-3 3-21 2 22 2-22 2-5 2 15 3-27 2 16 2 7 2 20 2-18 3 17 2 26 2-19 2-37 2-8 2 17 3 3 2-23 2 3 2 1 2 23 3 39 2 3 2-57 2 14 2-18 3-4 2 31 2-5 2-9 2 30 3-19 2 27 2-35 2 26 2-25 2 9 3 16 2-44 2 11 2 13 2-3 3 10 2-19 2-8 2 21 2 5 3-20 2 41 2-5 2-1 2-1 2-30 3 59 2-55 2 21 2 8 2-7 3-7 2-16 2 11 2 7 2 26 3-38 2 29 2-4 2-11 2-8 3 8 2-34 2 31 2 2 2-19 2 20 3-5 2-14 2 26 2-30 2 63 3-65 2 6 2 5 2 22 2 18 3-24 2-7 2 51 2-21 2-27 3 3 2-27 2 26 2 32 2-62 2-7 3 27 2-51 2 73 2-58 2 16 3 16 2 26 2-14 2-47 2 6 3 36 2-42 2 33 2-10 2 30 3 10 2-73 2 59 2 5 2-25 2 4 3-10 2 15 2 14 2 18 2 2 3-35 2-15 2 33 2-75 2 25 3 42 2 31 2-59 2 17 2-21 3 23 2 0 2-15 2 22 2-12 2 16 3-17 2-19 2 25 2 16 2-31 3 44 2-16 2-13 2 7 2-8 3-10 2 36 2 1 2-29 2 2 2 1 3 15 2 12 2-43 2 18 2-8 3 13 2 18 2-42 2-25 2 37 3-28 2 70 2-47 2 8 2 7 3-2 2-14 2 9 2 19 2-22 2 39 3-26 2-55 2 58 2-51 2 42 3 42 2-23 2-44 2 8 2 15 3 32 2-40 2 36 2-13 2-15 3-2 2 37 2-64 2 7 2 41 2 5 3-45 2 4 2-2 2 33 2-25 3 42 2-12 2-13 2-6 2 5 3 8 2-17 2 6 2 15 2-20 3 19 2-21 2-8 2 21 2 30 2-2 3-60 2 37 2-17 2 6 2 0 3 1 2-3 2 5 2 9 2-32 3-4 2 4 2-1 2 32 2-32 3 17 2 3 2 14 2-10 2 19 2-24 3 8 2 16 2-43 2 37 2 20 3-25 2-8 2 44 2-34 2 21 3-76 2 48 2-13 2 16 2 10 2-28 3-5 2-54 2 72 2 9 2-20 3-16 2 19 2 14 2-7 2 31 3-52 2-15 2 35 2 16 2-32 3 10 2-10 2-12 2 10 2-25 2 45 3 2 2 5 2-30 2 5 2-24 3 5 2 46 2 38 2-77 2 16 3 24 2-36 2 24 2-19 2-2 3 24 2-23 2-20 2 42 2-12 2-10 3-5 2 29 2-25 2 17 2 19 3-24 2 22 2-47 2 39 2-6 3 26 2-37 2 15 2-24 2-17 3-2 2-3 2 23 2-32 2 8 2 10 3 1 2-12 2 2 2-48 2 3 3 3 2 4 2-18 2-28 2-6 3-33 2 21 2-50 2 15 2 0 3-14 2-41 2 13 2-12 2-6 2 20 3-15 2-22 2 5 2 24 2-4 3-10 2 0 2 19 2 6 2 23 3-8 2 23 2 15 2-28 2 17 2 33 3-19 2 11 2 18 2-22 2 4 3-16 2 33 2-13 2 1 2-30 3 47 2-6 2-22 2 30 2-55 3 31 2-23 2 62 2-76 2 15 2 3 3 18 2-3 2-9 2-11 2 29 3-41 2 12 2 17 2-39 2 7 3 24 2-9 2-25 2 14 2 19 3-32 2 9 2-15 2-21 2 18 2-18 3-9 2-29 2-10 2-12 2-13 3-23 2-15 2 4 2-36 2-4 3-5 2-7 2-8 2 6 2 23 3 4 2 15 2 47 2-5 2 53 2 19 3 7 2 37 2 22 2 45 2 16 3-5 2 3 2 2 2 38 2-14 3 26 2 6 2 13 2 16 2-12 3 2 2-13 2 25 2-4 2 18 2-3 3-39 2-15 2 45 2 15 2-34 3 40 2-28 2-2 2 11 2-32 3-6 2 26 2-15 2 25 2 2 2-45 3 30 2 25 2-59 2 38 2-21 3-12 2 58 2-2 2-33 2 0 3 39 2 0 2-24 2 18 2-16 3-8 2 17 2-20 2 19 2-18 2-5 3 3 2 18 2 10 2-10 2-22 3 29 2-29 2-7 2 18 2 17 3 2 2-2 2 16 2-9 2-21 3 23 2-19 2 13 2 3 2-16 2-29 3 26 2-4 2 1 2-9 2-15 3-7 2 45 2 4 2-8 2-8 3 36 2-27 2-10 2 17 2-20 3 14 2-5 2 3 2-6 2-8 2 24 3 16 2-37 2 10 2-9 2 33 3-23 2 20 2-31 2 27 2-29 3-1 2 16 2-19 2 2 2 32 3-19 2 25 2 27 2-61 2 7 2-20 3 9 2 31 2-3 2-3 2 5 3-25 2-22 2 52 2-20 2 12 3-22 2 16 2-26 2 4 2-2 2 11 3 22 2-11 2-67 2 57 2 2 3 17 2-10 2-17 2 1 2 5 3-9 2 41 2-23 2-14 2 18 3 22 2-44 2 3 2-2 2-19 2 10 3-3 2 31 2 1 2 6 2-34 3 36 2-41 2 18 2 30 2-3 3-6 2 20 2-16 2-27 2-2 3-9 2 22 2-16 2 4 2-6 2-14 3 79 2-28 2-56 2 48 2-22 3-36 2 39 2 8 2 6 2 13 3-45 2 14 2 15 2-4 2-4 3-7 2 23 2-51 2-5 2 67 2-28 3 16 2-15 2-8 2-3 2 12 3-10 2 9 2-1 2 18 2 0 3 17 2-44 2 14 2 22 2-10 3-55 2 57 2-6 2-9 2 2 2-11 3 38 2-12 2-11 2 17 2-3 3-33 2-6 2 1 2 37 2-15 3 25 2-14 2-12 2-18 2 18 2 49 3-57 2-2 2 11 2 33 2-28 3-22 2 8 2 8 2 5 2 17 3 25 2-21 2-19 2-12 2-17 3 24 2 14 2-12 2-20 2 17 2-17 3 6 2-3 2 4 2 1 2 22 3-15 2-1 2 26 2-8 2 4 3-37 2 43 2-25 2-21 2 16 3-24 2 2 2 14 2 31 2-43 2 32 3-14 2 37 2-27"/>
</g>
<path d="M15.5 731.8H890.8 M15.50 731.8v14 M70.21 731.8v7.5 M124.91 731.8v14 M179.62 731.8v7.5 M234.32 731.8v14 M289.03 731.8v7.5 M343.73 731.8v14 M398.44 731.8v7.5 M453.14 731.8v14 M507.85 731.8v7.5 M562.55 731.8v14 M617.25 731.8v7.5 M671.96 731.8v14 M726.67 731.8v7.5 M781.37 731.8v14 M836.08 731.8v7.5 M890.78 731.8v14" stroke="#000" stroke-width="2.2" fill="none"/>
<g font-size="25" text-anchor="middle" fill="#000">
<text x="123.7" y="197.5">7</text>
<text x="123.7" y="222.1">3</text>
<text x="167.5" y="168.5">7</text>
<text x="167.2" y="193.5">3</text>
<text x="166.4" y="217.3">1</text>
<text x="252.7" y="189.1">6</text>
<text x="253.6" y="213.6">3</text>
<text x="252.6" y="236.9">2</text>
<text x="268.0" y="235.9">7</text>
<text x="385.9" y="178.6">6</text>
<text x="385.9" y="201.2">3</text>
<text x="403.4" y="26.8">7</text>
<text x="401.9" y="49.1">3</text>
<text x="416.6" y="131.6">7</text>
<text x="416.1" y="154.3">6</text>
<text x="414.3" y="178.1">1</text>
<text x="451.7" y="134.5">7</text>
<text x="469.1" y="134.5">7</text>
<text x="450.4" y="154.6">6</text>
<text x="465.4" y="154.6">3</text>
<text x="454.9" y="212.8">3</text>
<text x="480.2" y="172.8">7</text>
<text x="479.3" y="194.9">3</text>
<text x="556.3" y="219.2">7</text>
<text x="573.7" y="218.4">6</text>
<text x="555.9" y="241.5">3</text>
<text x="643.5" y="142.2">7</text>
<text x="642.5" y="165.7">3</text>
<text x="642.1" y="191.7">2</text>
<text x="641.5" y="215.4">1</text>
<text x="753.5" y="241.6">2</text>
<text x="806.4" y="232.9">2</text>
<text x="829.2" y="238.2">2</text>
<text x="125.0" y="390.7">7</text>
<text x="153.2" y="371.3">7</text>
<text x="152.1" y="396.5">1</text>
<text x="170.1" y="315.9">7</text>
<text x="170.1" y="343.3">6</text>
<text x="170.1" y="367.5">2</text>
<text x="247.8" y="376.2">6</text>
<text x="249.0" y="399.5">2</text>
<text x="265.1" y="395.5">7</text>
<text x="373.9" y="404.5">4</text>
<text x="386.2" y="360.6">6</text>
<text x="386.8" y="385.2">4</text>
<text x="399.5" y="281.2">7</text>
<text x="413.7" y="362.7">7</text>
<text x="450.2" y="287.1">6</text>
<text x="464.1" y="351.0">7</text>
<text x="478.6" y="283.1">7</text>
<text x="478.7" y="306.8">4</text>
<text x="571.7" y="367.8">6</text>
<text x="644.8" y="351.5">2</text>
<text x="643.8" y="377.1">1</text>
<text x="748.7" y="402.9">2</text>
<text x="807.2" y="393.0">2</text>
<text x="828.0" y="404.2">2</text>
<text x="168.8" y="643.4">7</text>
<text x="166.9" y="667.9">1</text>
<text x="194.2" y="651.2">2</text>
<text x="192.8" y="676.4">1</text>
<text x="265.3" y="659.0">1</text>
<text x="407.0" y="439.7">7</text>
<text x="419.2" y="653.2">7</text>
<text x="416.4" y="680.5">1</text>
<text x="449.9" y="614.2">7</text>
<text x="450.9" y="639.6">5</text>
<text x="471.6" y="578.6">7</text>
<text x="470.6" y="603.3">2</text>
<text x="517.2" y="684.8">7</text>
<text x="545.8" y="638.1">7</text>
<text x="544.5" y="664.7">5</text>
<text x="545.0" y="690.3">1</text>
<text x="573.0" y="671.0">5</text>
<text x="647.3" y="611.2">7</text>
<text x="648.1" y="636.5">2</text>
<text x="647.9" y="662.6">1</text>
<text x="810.8" y="662.9">2</text>
<text x="826.8" y="651.2">2</text>
</g>
<g font-size="26" text-anchor="middle" fill="#000">
<text x="15.8" y="773.9">30</text>
<text x="125.2" y="773.9">40</text>
<text x="234.6" y="773.9">50</text>
<text x="344.0" y="773.9">60</text>
<text x="453.4" y="773.9">70</text>
<text x="562.9" y="773.9">80</text>
<text x="672.3" y="773.9">90</text>
<text x="781.7" y="773.9">100</text>
<text x="891.1" y="773.9">110</text>
</g>
<text x="365.6" y="825.2" font-size="32" fill="#000">2<tspan font-family="Liberation Serif" font-size="30" dx="1">θ</tspan> [degrees]</text>
<g font-size="32" fill="#000">
<text x="896.5" y="256.5">900 °C, 6h</text>
<text x="900.5" y="418">900 °C, 2h</text>
<text x="896.5" y="701">900 °C, 1h</text>
</g>
<g font-size="32" fill="#000">
<text x="1117" y="25">1 - Ni</text><text x="1193" y="37" font-size="20">3</text><text x="1203" y="25">B</text>
<text x="1117" y="74.8">2 - Ni</text><text x="1193" y="87" font-size="20">2</text><text x="1203" y="74.8">B</text>
<text x="1117" y="124.4">3 - Ni</text><text x="1193" y="136" font-size="20">4</text><text x="1203" y="124.4">B</text><text x="1225" y="136" font-size="20">3</text>
<text x="1117" y="173">4 - NiB</text>
<text x="1117" y="212">5 - NiSi</text>
<text x="1117" y="251.3">6 - Ni</text><text x="1193" y="263.3" font-size="20">2</text><text x="1204" y="251.3">Si</text>
<text x="1117" y="300.5">7 - Ni</text><text x="1193" y="312.6" font-size="20">31</text><text x="1214" y="300.5">Si</text><text x="1243" y="312.6" font-size="20">12</text>
</g>
</svg>
</body></html>
